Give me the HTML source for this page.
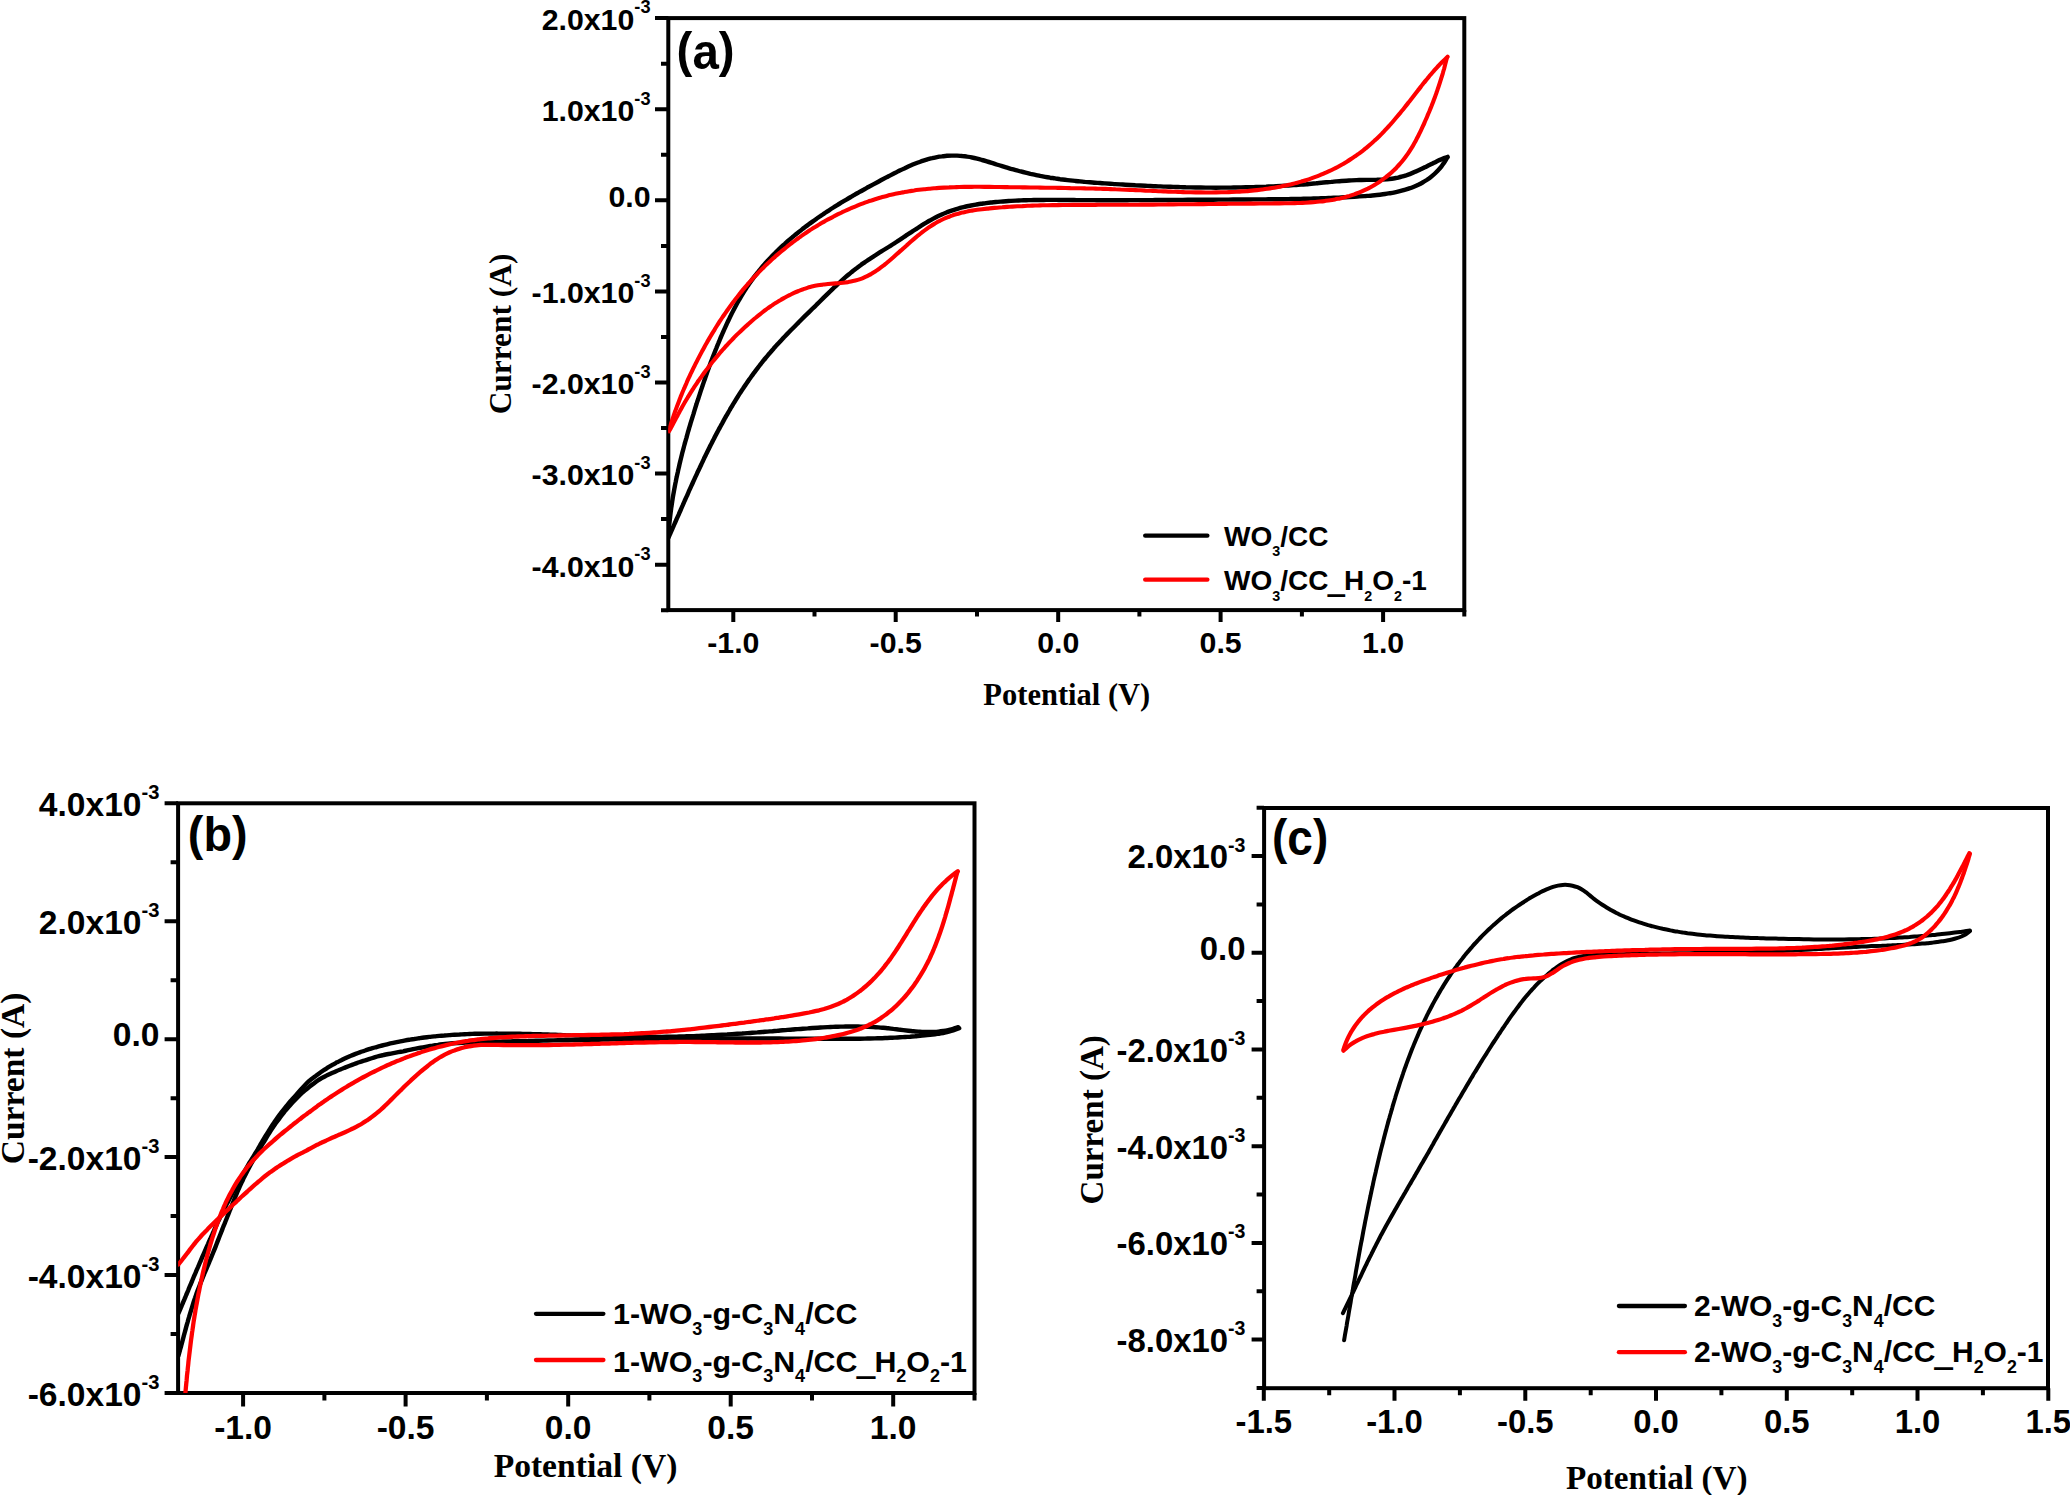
<!DOCTYPE html>
<html lang="en"><head><meta charset="utf-8"><title>Cyclic voltammograms</title>
<style>html,body{margin:0;padding:0;background:#fff}body{width:2070px;height:1495px;overflow:hidden}svg{display:block}.s{font-family:"Liberation Sans", Arial, Helvetica, sans-serif;font-weight:700;fill:#000}.t{font-family:"Liberation Serif", "Times New Roman", Times, serif;font-weight:700;fill:#000}.ax{stroke:#000;fill:none}.k{stroke:#000;fill:none;stroke-linejoin:round;stroke-linecap:round}.r{stroke:#ff0000;fill:none;stroke-linejoin:round;stroke-linecap:round}</style></head><body>
<svg width="2070" height="1495" viewBox="0 0 2070 1495">
<rect width="2070" height="1495" fill="#fff"/>
<g id="panel-a">
<clipPath id="clip-a"><rect x="668.3" y="18.1" width="796" height="592"/></clipPath>
<rect class="ax" x="668.3" y="18.1" width="796" height="592" stroke-width="4"/>
<path class="ax" stroke-width="4" d="M668.3 18.1H655M668.3 109.2H655M668.3 200.3H655M668.3 291.4H655M668.3 382.5H655M668.3 473.6H655M668.3 564.7H655M668.3 63.7H661M668.3 154.8H661M668.3 245.9H661M668.3 336.9H661M668.3 428.1H661M668.3 519.1H661M668.3 610.2H661M733.3 610.1V622.1M895.7 610.1V622.1M1058.2 610.1V622.1M1220.6 610.1V622.1M1383.1 610.1V622.1M814.5 610.1V616.6M977 610.1V616.6M1139.4 610.1V616.6M1301.9 610.1V616.6M1464.3 610.1V616.6"/>
<g clip-path="url(#clip-a)">
<path class="k" stroke-width="4.4" d="M668.7 537.2C669 536.4 670 534.2 670.7 532.6C671.4 531.1 672 529.6 672.7 528.1C673.4 526.5 674.1 525 674.7 523.5C675.4 522 676.1 520.4 676.7 518.9C677.4 517.4 678.1 515.8 678.8 514.3C679.4 512.8 680.1 511.2 680.8 509.7C681.4 508.2 682.1 506.6 682.8 505.1C683.5 503.5 684.2 502 684.8 500.5C685.5 498.9 686.2 497.4 686.9 495.9C687.6 494.3 688.3 492.8 688.9 491.2C689.6 489.7 690.3 488.2 691 486.6C691.7 485.1 692.4 483.6 693.1 482C693.8 480.5 694.5 479 695.2 477.4C695.9 475.9 696.6 474.4 697.3 472.8C698 471.3 698.7 469.8 699.5 468.2C700.2 466.7 700.9 465.2 701.6 463.7C702.3 462.1 703.1 460.6 703.8 459.1C704.5 457.6 705.3 456 706 454.5C706.8 453 707.5 451.5 708.2 450C709 448.5 709.7 446.9 710.5 445.4C711.3 443.9 712 442.4 712.8 440.9C713.6 439.4 714.3 437.9 715.1 436.4C715.9 434.9 716.7 433.4 717.5 431.9C718.3 430.5 719 429 719.9 427.5C720.7 426 721.5 424.5 722.3 423.1C723.1 421.6 723.9 420.1 724.7 418.6C725.6 417.2 726.4 415.7 727.2 414.3C728.1 412.8 728.9 411.3 729.8 409.9C730.6 408.4 731.5 407 732.3 405.6C733.2 404.1 734.1 402.7 734.9 401.3C735.8 399.8 736.7 398.4 737.6 397C738.5 395.6 739.4 394.2 740.3 392.7C741.2 391.3 742.1 389.9 743.1 388.5C744 387.1 744.9 385.8 745.9 384.4C746.8 383 747.8 381.6 748.7 380.2C749.7 378.9 750.7 377.5 751.6 376.1C752.6 374.8 753.6 373.4 754.6 372.1C755.6 370.7 756.6 369.4 757.6 368.1C758.6 366.7 759.7 365.4 760.7 364.1C761.7 362.8 762.8 361.5 763.8 360.2C764.9 358.9 765.9 357.6 767 356.3C768.1 355 769.2 353.7 770.3 352.5C771.4 351.2 772.5 349.9 773.6 348.7C774.7 347.4 775.8 346.2 776.9 344.9C778.1 343.7 779.2 342.5 780.4 341.2C781.5 340 782.7 338.8 783.8 337.5C785 336.3 786.1 335.1 787.3 333.9C788.5 332.7 789.7 331.5 790.8 330.3C792 329.1 793.2 327.9 794.4 326.7C795.6 325.5 796.8 324.3 798 323.1C799.2 321.9 800.3 320.7 801.5 319.5C802.7 318.3 803.9 317.1 805.1 315.9C806.3 314.8 807.6 313.6 808.8 312.4C810 311.2 811.2 310 812.4 308.8C813.6 307.6 814.8 306.4 816 305.3C817.2 304.1 818.4 302.9 819.6 301.7C820.8 300.5 822 299.3 823.2 298.1C824.4 296.9 825.6 295.8 826.8 294.6C828 293.4 829.2 292.2 830.4 291.1C831.6 289.9 832.8 288.7 834 287.6C835.3 286.4 836.5 285.3 837.7 284.1C839 283 840.2 281.9 841.4 280.8C842.7 279.6 843.9 278.5 845.2 277.4C846.5 276.3 847.7 275.3 849 274.2C850.3 273.1 851.6 272.1 852.9 271C854.2 270 855.5 269 856.9 268C858.2 267 859.5 266 860.9 265C862.2 264 863.6 263.1 865 262.1C866.4 261.2 867.7 260.2 869.1 259.3C870.5 258.4 871.9 257.5 873.3 256.6C874.7 255.6 876.1 254.7 877.5 253.8C879 252.9 880.4 252 881.8 251.1C883.2 250.3 884.7 249.4 886.1 248.5C887.5 247.6 888.9 246.7 890.4 245.8C891.8 244.9 893.2 244 894.7 243.1C896.1 242.2 897.5 241.2 898.9 240.3C900.4 239.4 901.8 238.5 903.2 237.5C904.6 236.6 906 235.6 907.4 234.7C908.9 233.8 910.3 232.8 911.7 231.9C913.1 230.9 914.5 230 916 229.1C917.4 228.1 918.8 227.2 920.2 226.3C921.7 225.4 923.1 224.5 924.5 223.6C926 222.7 927.4 221.9 928.9 221C930.3 220.2 931.8 219.4 933.3 218.6C934.8 217.8 936.3 217 937.8 216.3C939.3 215.6 940.8 214.9 942.3 214.2C943.8 213.5 945.4 212.9 946.9 212.3C948.5 211.7 950 211.1 951.6 210.6C953.2 210.1 954.8 209.6 956.4 209.1C958 208.6 959.6 208.2 961.2 207.7C962.8 207.3 964.4 206.9 966 206.5C967.7 206.2 969.3 205.8 971 205.5C972.6 205.2 974.2 204.9 975.9 204.6C977.6 204.3 979.2 204 980.9 203.8C982.5 203.6 984.2 203.3 985.9 203.1C987.5 202.9 989.2 202.7 990.9 202.5C992.6 202.3 994.2 202.2 995.9 202C997.6 201.8 999.3 201.7 1000.9 201.6C1002.6 201.4 1004.3 201.3 1006 201.2C1007.7 201.1 1009.3 201 1011 200.9C1012.7 200.8 1014.4 200.7 1016 200.6C1017.7 200.5 1019.4 200.5 1021.1 200.4C1022.8 200.3 1024.4 200.3 1026.1 200.2C1027.8 200.2 1029.5 200.1 1031.1 200.1C1032.8 200.1 1034.5 200 1036.2 200C1037.9 200 1039.5 200 1041.2 200C1042.9 200 1044.6 199.9 1046.3 199.9C1048 199.9 1049.6 199.9 1051.3 199.9C1053 199.9 1054.7 199.9 1056.4 199.9C1058 199.9 1059.7 200 1061.4 200C1063.1 200 1064.8 200 1066.5 200C1068.2 200 1069.8 200 1071.5 200C1073.2 200 1074.9 200.1 1076.6 200.1C1078.3 200.1 1079.9 200.1 1081.6 200.1C1083.3 200.1 1085 200.1 1086.7 200.1C1088.4 200.1 1090.1 200.1 1091.7 200.1C1093.4 200.1 1095.1 200.2 1096.8 200.2C1098.5 200.2 1100.2 200.2 1101.9 200.2C1103.6 200.2 1105.2 200.2 1106.9 200.2C1108.6 200.2 1110.3 200.2 1112 200.2C1113.7 200.2 1115.4 200.2 1117.1 200.2C1118.7 200.2 1120.4 200.2 1122.1 200.2C1123.8 200.2 1125.5 200.2 1127.2 200.2C1128.9 200.2 1130.6 200.1 1132.2 200.1C1133.9 200.1 1135.6 200.1 1137.3 200.1C1139 200.1 1140.7 200.1 1142.4 200.1C1144.1 200.1 1145.7 200.1 1147.4 200.1C1149.1 200.1 1150.8 200.1 1152.5 200.1C1154.2 200.1 1155.9 200 1157.5 200C1159.2 200 1160.9 200 1162.6 200C1164.3 200 1166 200 1167.7 200C1169.3 200 1171 200 1172.7 199.9C1174.4 199.9 1176.1 199.9 1177.8 199.9C1179.5 199.9 1181.1 199.9 1182.8 199.9C1184.5 199.9 1186.2 199.9 1187.9 199.8C1189.6 199.8 1191.2 199.8 1192.9 199.8C1194.6 199.8 1196.3 199.8 1198 199.8C1199.6 199.8 1201.3 199.8 1203 199.7C1204.7 199.7 1206.4 199.7 1208 199.7C1209.7 199.7 1211.4 199.7 1213.1 199.7C1214.8 199.7 1216.4 199.7 1218.1 199.6C1219.8 199.6 1221.5 199.6 1223.1 199.6C1224.8 199.6 1226.5 199.6 1228.2 199.6C1229.8 199.6 1231.5 199.6 1233.2 199.5C1234.9 199.5 1236.5 199.5 1238.2 199.5C1239.9 199.5 1241.5 199.5 1243.2 199.5C1244.9 199.5 1246.6 199.5 1248.2 199.5C1249.9 199.5 1251.6 199.4 1253.2 199.4C1254.9 199.4 1256.6 199.4 1258.2 199.4C1259.9 199.4 1261.6 199.4 1263.3 199.4C1264.9 199.4 1266.6 199.3 1268.3 199.3C1269.9 199.3 1271.6 199.3 1273.3 199.3C1274.9 199.3 1276.6 199.2 1278.3 199.2C1280 199.2 1281.6 199.2 1283.3 199.2C1285 199.1 1286.6 199.1 1288.3 199.1C1290 199.1 1291.7 199 1293.3 199C1295 199 1296.7 198.9 1298.4 198.9C1300 198.9 1301.7 198.8 1303.4 198.8C1305.1 198.8 1306.7 198.7 1308.4 198.7C1310.1 198.6 1311.8 198.6 1313.5 198.5C1315.1 198.5 1316.8 198.4 1318.5 198.4C1320.2 198.3 1321.9 198.3 1323.6 198.2C1325.3 198.2 1327 198.1 1328.6 198C1330.3 198 1332 197.9 1333.7 197.8C1335.4 197.8 1337.1 197.7 1338.8 197.6C1340.5 197.5 1342.2 197.4 1343.9 197.3C1345.6 197.3 1347.3 197.2 1349 197.1C1350.7 197 1352.4 196.9 1354.2 196.8C1355.9 196.7 1357.6 196.6 1359.3 196.4C1361 196.3 1362.7 196.2 1364.5 196.1C1366.2 196 1367.9 195.8 1369.6 195.7C1371.3 195.5 1373 195.4 1374.8 195.2C1376.5 195.1 1378.2 194.9 1379.9 194.7C1381.6 194.5 1383.3 194.3 1385 194C1386.6 193.8 1388.3 193.5 1390 193.2C1391.6 193 1393.3 192.7 1394.9 192.3C1396.6 192 1398.2 191.6 1399.8 191.2C1401.4 190.8 1403 190.4 1404.6 189.9C1406.2 189.5 1407.8 189 1409.3 188.4C1410.8 187.9 1412.4 187.3 1413.9 186.7C1415.4 186.1 1416.8 185.5 1418.3 184.8C1419.7 184.1 1421.2 183.3 1422.6 182.5C1424 181.7 1425.3 180.9 1426.7 180C1428 179.1 1429.3 178.2 1430.6 177.2C1431.9 176.2 1433.2 175.1 1434.4 174C1435.6 172.9 1436.8 171.7 1437.9 170.5C1439.1 169.3 1440.2 168 1441.3 166.6C1442.3 165.2 1443.4 163.8 1444.4 162.3C1445.4 160.8 1446.8 158.4 1447.2 157.6"/>
<path class="k" stroke-width="4.4" d="M668.7 531.4C668.8 530.6 669 528 669.1 526.4C669.3 524.7 669.4 523 669.6 521.4C669.8 519.7 670 518 670.2 516.3C670.4 514.7 670.6 513 670.8 511.3C671 509.7 671.2 508 671.5 506.4C671.7 504.7 672 503 672.2 501.4C672.5 499.7 672.7 498.1 673 496.4C673.3 494.7 673.6 493.1 673.9 491.4C674.2 489.8 674.5 488.1 674.8 486.5C675.1 484.8 675.4 483.2 675.8 481.5C676.1 479.9 676.4 478.3 676.8 476.6C677.1 475 677.5 473.3 677.9 471.7C678.2 470.1 678.6 468.4 679 466.8C679.3 465.1 679.7 463.5 680.1 461.9C680.5 460.2 680.9 458.6 681.3 457C681.7 455.4 682.1 453.7 682.5 452.1C683 450.5 683.4 448.9 683.8 447.3C684.2 445.6 684.7 444 685.1 442.4C685.6 440.8 686 439.2 686.5 437.6C686.9 436 687.4 434.3 687.8 432.7C688.3 431.1 688.8 429.5 689.2 427.9C689.7 426.3 690.2 424.7 690.6 423.1C691.1 421.5 691.6 419.9 692.1 418.3C692.6 416.7 693.1 415.1 693.6 413.6C694 412 694.5 410.4 695 408.8C695.5 407.2 696 405.6 696.5 404C697 402.5 697.5 400.9 698.1 399.3C698.6 397.7 699.1 396.2 699.6 394.6C700.1 393 700.6 391.4 701.1 389.9C701.7 388.3 702.2 386.7 702.7 385.2C703.3 383.6 703.8 382 704.3 380.5C704.9 378.9 705.4 377.4 706 375.8C706.5 374.2 707.1 372.7 707.6 371.1C708.2 369.6 708.7 368 709.3 366.4C709.9 364.9 710.5 363.3 711 361.8C711.6 360.2 712.2 358.7 712.8 357.1C713.4 355.6 714 354 714.6 352.5C715.2 350.9 715.8 349.4 716.5 347.8C717.1 346.2 717.7 344.7 718.4 343.1C719 341.6 719.7 340 720.3 338.5C721 336.9 721.6 335.4 722.3 333.8C723 332.3 723.7 330.7 724.4 329.2C725.1 327.6 725.8 326.1 726.5 324.5C727.2 323 727.9 321.4 728.7 319.9C729.4 318.4 730.1 316.8 730.9 315.3C731.6 313.8 732.4 312.2 733.2 310.7C734 309.2 734.8 307.7 735.6 306.2C736.4 304.7 737.2 303.2 738 301.7C738.9 300.3 739.7 298.8 740.6 297.3C741.4 295.9 742.3 294.4 743.2 293C744.1 291.6 745 290.1 745.9 288.7C746.8 287.3 747.8 285.9 748.7 284.5C749.7 283.1 750.6 281.8 751.6 280.4C752.6 279.1 753.6 277.7 754.6 276.4C755.6 275.1 756.6 273.8 757.7 272.5C758.7 271.1 759.8 269.9 760.8 268.6C761.9 267.3 763 266 764.1 264.8C765.2 263.5 766.3 262.3 767.4 261.1C768.5 259.9 769.7 258.6 770.8 257.4C771.9 256.2 773.1 255 774.3 253.9C775.4 252.7 776.6 251.5 777.8 250.4C779 249.2 780.2 248.1 781.4 246.9C782.6 245.8 783.9 244.7 785.1 243.6C786.3 242.4 787.6 241.3 788.8 240.2C790.1 239.2 791.4 238.1 792.6 237C793.9 235.9 795.2 234.9 796.5 233.8C797.8 232.8 799.1 231.7 800.4 230.7C801.7 229.7 803 228.6 804.4 227.6C805.7 226.6 807 225.6 808.4 224.6C809.7 223.6 811.1 222.6 812.5 221.6C813.8 220.7 815.2 219.7 816.6 218.7C817.9 217.8 819.3 216.8 820.7 215.9C822.1 214.9 823.5 214 824.9 213C826.3 212.1 827.7 211.2 829.1 210.3C830.6 209.3 832 208.4 833.4 207.5C834.8 206.6 836.3 205.7 837.7 204.8C839.1 203.9 840.6 203.1 842 202.2C843.5 201.3 844.9 200.4 846.4 199.6C847.8 198.7 849.3 197.8 850.8 197C852.2 196.1 853.7 195.3 855.2 194.4C856.6 193.6 858.1 192.8 859.6 191.9C861 191.1 862.5 190.3 864 189.5C865.5 188.6 867 187.8 868.4 187C869.9 186.2 871.4 185.4 872.9 184.6C874.4 183.8 875.9 183 877.4 182.2C878.9 181.4 880.3 180.6 881.8 179.8C883.3 179 884.8 178.2 886.3 177.4C887.8 176.6 889.3 175.9 890.8 175.1C892.3 174.3 893.8 173.5 895.3 172.8C896.8 172 898.2 171.3 899.7 170.5C901.2 169.8 902.7 169.1 904.3 168.4C905.8 167.7 907.3 167 908.8 166.3C910.3 165.6 911.8 165 913.4 164.3C914.9 163.7 916.4 163.1 918 162.5C919.5 162 921.1 161.4 922.6 160.9C924.2 160.4 925.8 159.9 927.4 159.4C929 159 930.6 158.5 932.2 158.2C933.8 157.8 935.4 157.4 937 157.1C938.7 156.8 940.3 156.6 942 156.4C943.6 156.1 945.3 156 947 155.8C948.7 155.7 950.3 155.6 952 155.6C953.7 155.6 955.4 155.6 957.1 155.6C958.8 155.7 960.5 155.8 962.2 156C963.9 156.1 965.6 156.3 967.2 156.6C968.9 156.8 970.6 157.1 972.2 157.5C973.9 157.8 975.5 158.2 977.1 158.6C978.8 159 980.4 159.5 982 160C983.6 160.4 985.2 160.9 986.8 161.4C988.5 161.9 990.1 162.4 991.7 162.9C993.3 163.4 994.9 164 996.5 164.5C998.1 165 999.7 165.5 1001.3 165.9C1002.9 166.4 1004.5 166.9 1006.1 167.4C1007.7 167.9 1009.4 168.3 1011 168.8C1012.6 169.2 1014.2 169.7 1015.8 170.1C1017.4 170.5 1019.1 171 1020.7 171.4C1022.3 171.8 1023.9 172.2 1025.5 172.6C1027.2 173 1028.8 173.4 1030.4 173.8C1032.1 174.1 1033.7 174.5 1035.3 174.8C1037 175.2 1038.6 175.5 1040.2 175.9C1041.9 176.2 1043.5 176.5 1045.1 176.8C1046.8 177.1 1048.4 177.4 1050.1 177.7C1051.7 177.9 1053.4 178.2 1055 178.4C1056.7 178.7 1058.4 178.9 1060 179.2C1061.7 179.4 1063.3 179.6 1065 179.8C1066.7 180 1068.3 180.2 1070 180.4C1071.6 180.6 1073.3 180.8 1075 180.9C1076.7 181.1 1078.3 181.3 1080 181.4C1081.7 181.6 1083.3 181.7 1085 181.9C1086.7 182 1088.4 182.2 1090 182.3C1091.7 182.4 1093.4 182.6 1095.1 182.7C1096.8 182.8 1098.4 182.9 1100.1 183C1101.8 183.2 1103.5 183.3 1105.1 183.4C1106.8 183.5 1108.5 183.6 1110.2 183.7C1111.8 183.8 1113.5 184 1115.2 184.1C1116.9 184.2 1118.6 184.3 1120.2 184.4C1121.9 184.5 1123.6 184.6 1125.3 184.7C1126.9 184.8 1128.6 184.9 1130.3 185C1132 185.1 1133.7 185.2 1135.3 185.3C1137 185.3 1138.7 185.4 1140.4 185.5C1142 185.6 1143.7 185.7 1145.4 185.8C1147.1 185.9 1148.8 185.9 1150.4 186C1152.1 186.1 1153.8 186.2 1155.5 186.2C1157.1 186.3 1158.8 186.4 1160.5 186.4C1162.2 186.5 1163.9 186.6 1165.5 186.6C1167.2 186.7 1168.9 186.8 1170.6 186.8C1172.2 186.9 1173.9 186.9 1175.6 187C1177.3 187 1178.9 187.1 1180.6 187.1C1182.3 187.2 1184 187.2 1185.7 187.3C1187.3 187.3 1189 187.3 1190.7 187.4C1192.4 187.4 1194 187.4 1195.7 187.5C1197.4 187.5 1199.1 187.5 1200.7 187.5C1202.4 187.6 1204.1 187.6 1205.8 187.6C1207.5 187.6 1209.1 187.6 1210.8 187.6C1212.5 187.6 1214.2 187.6 1215.8 187.7C1217.5 187.7 1219.2 187.7 1220.9 187.6C1222.5 187.6 1224.2 187.6 1225.9 187.6C1227.6 187.6 1229.2 187.6 1230.9 187.6C1232.6 187.6 1234.3 187.5 1235.9 187.5C1237.6 187.5 1239.3 187.5 1241 187.4C1242.6 187.4 1244.3 187.4 1246 187.3C1247.7 187.3 1249.3 187.2 1251 187.2C1252.7 187.1 1254.4 187.1 1256 187C1257.7 187 1259.4 186.9 1261.1 186.9C1262.7 186.8 1264.4 186.7 1266.1 186.7C1267.8 186.6 1269.4 186.5 1271.1 186.4C1272.8 186.4 1274.5 186.3 1276.1 186.2C1277.8 186.1 1279.5 186 1281.2 185.9C1282.8 185.8 1284.5 185.7 1286.2 185.6C1287.9 185.5 1289.5 185.4 1291.2 185.3C1292.9 185.2 1294.5 185.1 1296.2 185C1297.9 184.8 1299.6 184.7 1301.2 184.6C1302.9 184.4 1304.6 184.3 1306.3 184.2C1307.9 184 1309.6 183.9 1311.3 183.7C1312.9 183.6 1314.6 183.4 1316.3 183.3C1318 183.1 1319.6 183 1321.3 182.8C1323 182.7 1324.7 182.5 1326.3 182.3C1328 182.2 1329.7 182 1331.3 181.9C1333 181.7 1334.7 181.6 1336.4 181.4C1338 181.3 1339.7 181.2 1341.4 181C1343.1 180.9 1344.8 180.8 1346.4 180.7C1348.1 180.6 1349.8 180.5 1351.5 180.4C1353.2 180.3 1354.9 180.2 1356.5 180.1C1358.2 180.1 1359.9 180 1361.6 180C1363.3 180 1365 180 1366.7 179.9C1368.4 179.9 1370.1 179.9 1371.7 179.9C1373.4 179.9 1375.1 179.8 1376.8 179.8C1378.5 179.7 1380.2 179.7 1381.8 179.6C1383.5 179.5 1385.2 179.4 1386.8 179.3C1388.5 179.1 1390.1 178.9 1391.8 178.7C1393.4 178.5 1395 178.2 1396.7 177.9C1398.3 177.5 1399.9 177.2 1401.5 176.7C1403.1 176.3 1404.7 175.8 1406.2 175.3C1407.8 174.7 1409.4 174.2 1410.9 173.6C1412.5 173 1414.1 172.3 1415.6 171.6C1417.1 171 1418.7 170.3 1420.2 169.5C1421.7 168.8 1423.3 168.1 1424.8 167.3C1426.3 166.6 1427.8 165.8 1429.3 165.1C1430.9 164.3 1432.4 163.6 1433.9 162.8C1435.4 162.1 1436.9 161.3 1438.4 160.6C1439.9 159.9 1441.5 159.3 1443 158.6C1444.5 158 1446.9 157.2 1447.6 156.9"/>
<path class="r" stroke-width="4.1" d="M668.9 431.4C669.2 430.8 670.3 429 671 427.7C671.7 426.4 672.4 425 673.2 423.7C673.9 422.3 674.6 420.9 675.4 419.5C676.1 418.1 676.9 416.7 677.7 415.2C678.4 413.8 679.2 412.4 680 410.9C680.8 409.4 681.6 408 682.4 406.5C683.3 405 684.1 403.6 684.9 402.1C685.8 400.7 686.6 399.2 687.5 397.8C688.4 396.3 689.3 394.9 690.2 393.4C691.1 392 692 390.6 692.9 389.2C693.8 387.7 694.7 386.3 695.7 384.9C696.6 383.5 697.6 382.1 698.5 380.7C699.5 379.3 700.5 378 701.5 376.6C702.4 375.2 703.4 373.9 704.4 372.5C705.4 371.1 706.4 369.8 707.5 368.5C708.5 367.1 709.5 365.8 710.5 364.5C711.6 363.1 712.6 361.8 713.7 360.5C714.7 359.2 715.8 357.9 716.9 356.6C717.9 355.4 719 354.1 720.1 352.8C721.2 351.5 722.3 350.3 723.4 349C724.5 347.8 725.6 346.5 726.8 345.3C727.9 344.1 729.1 342.8 730.2 341.6C731.4 340.4 732.5 339.2 733.7 338C734.9 336.8 736 335.6 737.2 334.4C738.4 333.2 739.6 332.1 740.9 330.9C742.1 329.8 743.3 328.6 744.5 327.5C745.8 326.3 747 325.2 748.3 324.1C749.5 322.9 750.8 321.8 752.1 320.7C753.4 319.6 754.7 318.5 756 317.5C757.3 316.4 758.6 315.3 759.9 314.3C761.2 313.3 762.6 312.2 763.9 311.2C765.3 310.2 766.6 309.2 768 308.2C769.4 307.3 770.7 306.3 772.1 305.4C773.5 304.4 774.9 303.5 776.4 302.6C777.8 301.7 779.2 300.8 780.7 300C782.1 299.1 783.6 298.3 785 297.5C786.5 296.7 788 295.9 789.5 295.1C791 294.4 792.5 293.6 794 292.9C795.5 292.2 797 291.6 798.6 291C800.1 290.3 801.7 289.7 803.2 289.2C804.8 288.6 806.4 288.1 808 287.6C809.6 287.2 811.2 286.7 812.9 286.3C814.5 285.9 816.1 285.6 817.8 285.3C819.4 285 821.1 284.8 822.8 284.6C824.5 284.3 826.2 284.2 827.9 284C829.6 283.9 831.3 283.7 833 283.6C834.7 283.5 836.4 283.3 838.1 283.2C839.8 283 841.5 282.9 843.1 282.7C844.8 282.5 846.5 282.3 848.1 282.1C849.8 281.8 851.4 281.5 853 281.1C854.6 280.8 856.2 280.4 857.7 279.9C859.3 279.4 860.8 278.9 862.3 278.3C863.8 277.7 865.3 277.1 866.7 276.3C868.2 275.6 869.6 274.9 871 274.1C872.4 273.2 873.8 272.4 875.2 271.5C876.6 270.6 877.9 269.6 879.3 268.7C880.6 267.7 881.9 266.7 883.3 265.7C884.6 264.6 885.9 263.6 887.2 262.5C888.5 261.4 889.8 260.3 891.1 259.2C892.4 258.1 893.7 257 895 255.8C896.3 254.7 897.5 253.5 898.8 252.4C900.1 251.2 901.4 250.1 902.7 248.9C904 247.8 905.3 246.6 906.6 245.5C907.8 244.3 909.1 243.2 910.4 242C911.7 240.9 913 239.8 914.4 238.6C915.7 237.5 917 236.4 918.3 235.3C919.6 234.3 921 233.2 922.3 232.2C923.7 231.1 925 230.1 926.4 229.1C927.7 228.1 929.1 227.2 930.5 226.3C931.9 225.3 933.3 224.4 934.8 223.6C936.2 222.7 937.6 221.9 939.1 221.2C940.5 220.4 942 219.7 943.5 219C945 218.3 946.5 217.7 948 217.1C949.6 216.5 951.1 215.9 952.7 215.4C954.2 214.8 955.8 214.4 957.4 213.9C959 213.5 960.6 213 962.2 212.6C963.8 212.3 965.4 211.9 967.1 211.6C968.7 211.2 970.3 210.9 972 210.6C973.6 210.4 975.3 210.1 977 209.8C978.6 209.6 980.3 209.4 982 209.2C983.6 209 985.3 208.8 987 208.6C988.7 208.4 990.4 208.3 992.1 208.1C993.7 208 995.4 207.8 997.1 207.7C998.8 207.5 1000.5 207.4 1002.2 207.3C1003.9 207.1 1005.5 207 1007.2 206.9C1008.9 206.8 1010.6 206.7 1012.3 206.6C1014 206.5 1015.7 206.4 1017.3 206.3C1019 206.2 1020.7 206.1 1022.4 206.1C1024.1 206 1025.8 205.9 1027.5 205.8C1029.2 205.8 1030.8 205.7 1032.5 205.6C1034.2 205.6 1035.9 205.5 1037.6 205.5C1039.3 205.4 1040.9 205.4 1042.6 205.3C1044.3 205.3 1046 205.3 1047.7 205.2C1049.4 205.2 1051.1 205.2 1052.7 205.1C1054.4 205.1 1056.1 205.1 1057.8 205.1C1059.5 205 1061.2 205 1062.8 205C1064.5 205 1066.2 205 1067.9 205C1069.6 204.9 1071.3 204.9 1072.9 204.9C1074.6 204.9 1076.3 204.9 1078 204.9C1079.7 204.9 1081.3 204.9 1083 204.9C1084.7 204.9 1086.4 204.9 1088.1 204.9C1089.7 204.9 1091.4 204.9 1093.1 204.9C1094.8 204.9 1096.5 204.8 1098.1 204.8C1099.8 204.8 1101.5 204.8 1103.2 204.8C1104.8 204.8 1106.5 204.8 1108.2 204.8C1109.9 204.8 1111.5 204.8 1113.2 204.8C1114.9 204.8 1116.6 204.8 1118.2 204.8C1119.9 204.8 1121.6 204.8 1123.3 204.8C1124.9 204.8 1126.6 204.7 1128.3 204.7C1129.9 204.7 1131.6 204.7 1133.3 204.7C1135 204.7 1136.6 204.7 1138.3 204.7C1140 204.7 1141.6 204.6 1143.3 204.6C1145 204.6 1146.7 204.6 1148.3 204.6C1150 204.6 1151.7 204.6 1153.3 204.6C1155 204.5 1156.7 204.5 1158.4 204.5C1160 204.5 1161.7 204.5 1163.4 204.5C1165 204.5 1166.7 204.4 1168.4 204.4C1170.1 204.4 1171.7 204.4 1173.4 204.4C1175.1 204.4 1176.7 204.4 1178.4 204.3C1180.1 204.3 1181.8 204.3 1183.4 204.3C1185.1 204.3 1186.8 204.3 1188.5 204.2C1190.1 204.2 1191.8 204.2 1193.5 204.2C1195.2 204.2 1196.8 204.2 1198.5 204.1C1200.2 204.1 1201.9 204.1 1203.5 204.1C1205.2 204.1 1206.9 204.1 1208.6 204C1210.2 204 1211.9 204 1213.6 204C1215.3 204 1217 203.9 1218.6 203.9C1220.3 203.9 1222 203.9 1223.7 203.9C1225.4 203.9 1227.1 203.8 1228.7 203.8C1230.4 203.8 1232.1 203.8 1233.8 203.8C1235.5 203.8 1237.2 203.7 1238.9 203.7C1240.5 203.7 1242.2 203.7 1243.9 203.7C1245.6 203.7 1247.3 203.7 1249 203.6C1250.7 203.6 1252.4 203.6 1254.1 203.6C1255.8 203.6 1257.5 203.6 1259.2 203.5C1260.9 203.5 1262.6 203.5 1264.2 203.5C1265.9 203.5 1267.6 203.5 1269.3 203.5C1271.1 203.5 1272.8 203.4 1274.5 203.4C1276.2 203.4 1277.9 203.4 1279.6 203.4C1281.3 203.4 1283 203.4 1284.7 203.3C1286.4 203.3 1288.1 203.3 1289.8 203.2C1291.5 203.2 1293.2 203.2 1294.9 203.1C1296.6 203.1 1298.3 203 1300 203C1301.7 202.9 1303.4 202.8 1305.1 202.7C1306.8 202.6 1308.5 202.5 1310.2 202.4C1311.8 202.3 1313.5 202.2 1315.2 202C1316.9 201.9 1318.5 201.7 1320.2 201.5C1321.9 201.4 1323.5 201.2 1325.2 200.9C1326.8 200.7 1328.5 200.5 1330.1 200.2C1331.8 200 1333.4 199.7 1335 199.4C1336.7 199.1 1338.3 198.7 1339.9 198.4C1341.5 198 1343.1 197.6 1344.7 197.2C1346.3 196.8 1347.9 196.3 1349.5 195.9C1351.1 195.4 1352.6 194.9 1354.2 194.4C1355.7 193.8 1357.3 193.2 1358.8 192.6C1360.4 192 1361.9 191.4 1363.4 190.7C1364.9 190 1366.4 189.3 1367.9 188.6C1369.4 187.8 1370.9 187 1372.3 186.2C1373.8 185.4 1375.3 184.5 1376.7 183.6C1378.1 182.7 1379.5 181.8 1380.9 180.8C1382.3 179.9 1383.7 178.9 1385 177.8C1386.4 176.8 1387.7 175.7 1389 174.6C1390.3 173.5 1391.6 172.4 1392.8 171.2C1394.1 170.1 1395.3 168.9 1396.5 167.7C1397.7 166.4 1398.8 165.2 1399.9 163.9C1401 162.7 1402.1 161.4 1403.2 160C1404.2 158.7 1405.2 157.4 1406.2 156C1407.2 154.7 1408.2 153.3 1409.1 151.9C1410 150.5 1410.9 149.1 1411.8 147.6C1412.7 146.2 1413.5 144.7 1414.3 143.3C1415.2 141.8 1416 140.3 1416.7 138.8C1417.5 137.3 1418.3 135.8 1419 134.3C1419.8 132.8 1420.5 131.3 1421.2 129.8C1422 128.2 1422.7 126.7 1423.4 125.2C1424.1 123.6 1424.7 122.1 1425.4 120.5C1426.1 119 1426.8 117.4 1427.4 115.9C1428.1 114.3 1428.7 112.8 1429.4 111.2C1430 109.7 1430.6 108.1 1431.3 106.6C1431.9 105 1432.5 103.5 1433.1 101.9C1433.7 100.3 1434.3 98.8 1434.9 97.2C1435.5 95.6 1436 94 1436.6 92.5C1437.1 90.9 1437.7 89.3 1438.2 87.7C1438.8 86.1 1439.3 84.5 1439.8 82.9C1440.3 81.4 1440.8 79.8 1441.3 78.2C1441.8 76.5 1442.3 74.9 1442.8 73.3C1443.2 71.7 1443.7 70.1 1444.2 68.5C1444.6 66.9 1445 65.2 1445.4 63.6C1445.9 62 1446.5 59.5 1446.7 58.7"/>
<path class="r" stroke-width="4.1" d="M668.9 430.4C669.1 429.6 669.9 427.2 670.4 425.6C670.9 424 671.4 422.4 671.9 420.8C672.4 419.2 673 417.7 673.5 416.1C674.1 414.5 674.6 412.9 675.2 411.3C675.7 409.8 676.3 408.2 676.9 406.6C677.5 405 678.1 403.5 678.7 401.9C679.3 400.3 679.9 398.8 680.5 397.2C681.1 395.7 681.8 394.1 682.4 392.6C683 391 683.7 389.5 684.4 387.9C685 386.4 685.7 384.8 686.4 383.3C687 381.8 687.7 380.2 688.4 378.7C689.1 377.2 689.8 375.7 690.5 374.1C691.3 372.6 692 371.1 692.7 369.6C693.4 368.1 694.2 366.6 694.9 365.1C695.7 363.6 696.4 362.1 697.2 360.6C698 359.1 698.7 357.6 699.5 356.1C700.3 354.6 701.1 353.1 701.9 351.6C702.7 350.2 703.5 348.7 704.3 347.2C705.1 345.7 705.9 344.3 706.8 342.8C707.6 341.3 708.4 339.9 709.3 338.4C710.1 337 711 335.5 711.8 334.1C712.7 332.6 713.6 331.2 714.5 329.8C715.3 328.3 716.2 326.9 717.1 325.5C718 324.1 718.9 322.6 719.8 321.2C720.8 319.8 721.7 318.4 722.6 317C723.6 315.6 724.5 314.3 725.5 312.9C726.4 311.5 727.4 310.1 728.3 308.8C729.3 307.4 730.3 306 731.3 304.7C732.3 303.3 733.3 302 734.3 300.7C735.3 299.3 736.3 298 737.4 296.7C738.4 295.4 739.5 294.1 740.5 292.8C741.6 291.5 742.6 290.2 743.7 288.9C744.8 287.6 745.9 286.3 747 285.1C748.1 283.8 749.2 282.6 750.3 281.3C751.4 280.1 752.5 278.8 753.7 277.6C754.8 276.4 755.9 275.2 757.1 274C758.2 272.8 759.4 271.6 760.6 270.4C761.8 269.2 762.9 268 764.1 266.9C765.3 265.7 766.5 264.5 767.8 263.4C769 262.2 770.2 261.1 771.4 260C772.7 258.9 773.9 257.7 775.2 256.6C776.4 255.5 777.7 254.4 778.9 253.4C780.2 252.3 781.5 251.2 782.8 250.1C784.1 249.1 785.4 248 786.7 247C788 245.9 789.3 244.9 790.6 243.9C792 242.9 793.3 241.9 794.7 240.9C796 239.9 797.4 238.9 798.7 237.9C800.1 236.9 801.5 236 802.8 235C804.2 234.1 805.6 233.1 807 232.2C808.4 231.3 809.8 230.3 811.2 229.4C812.6 228.5 814.1 227.6 815.5 226.8C816.9 225.9 818.4 225 819.8 224.1C821.3 223.3 822.7 222.4 824.2 221.6C825.7 220.8 827.2 219.9 828.6 219.1C830.1 218.3 831.6 217.5 833.1 216.8C834.6 216 836.1 215.2 837.6 214.4C839.1 213.7 840.7 213 842.2 212.2C843.7 211.5 845.2 210.8 846.8 210.1C848.3 209.4 849.9 208.7 851.4 208C853 207.4 854.5 206.7 856.1 206.1C857.7 205.4 859.2 204.8 860.8 204.2C862.4 203.6 863.9 203 865.5 202.4C867.1 201.9 868.7 201.3 870.3 200.8C871.9 200.2 873.5 199.7 875.1 199.2C876.7 198.7 878.3 198.2 879.9 197.7C881.5 197.3 883.1 196.8 884.7 196.4C886.4 196 888 195.5 889.6 195.1C891.2 194.8 892.8 194.4 894.5 194C896.1 193.7 897.7 193.3 899.4 193C901 192.7 902.6 192.3 904.3 192.1C905.9 191.8 907.6 191.5 909.2 191.2C910.8 191 912.5 190.7 914.1 190.5C915.8 190.2 917.4 190 919.1 189.8C920.7 189.6 922.4 189.4 924.1 189.2C925.7 189 927.4 188.9 929 188.7C930.7 188.6 932.4 188.4 934 188.3C935.7 188.2 937.4 188 939 187.9C940.7 187.8 942.4 187.7 944.1 187.6C945.7 187.5 947.4 187.4 949.1 187.4C950.7 187.3 952.4 187.2 954.1 187.2C955.8 187.1 957.5 187.1 959.1 187C960.8 187 962.5 187 964.2 186.9C965.9 186.9 967.6 186.9 969.2 186.9C970.9 186.9 972.6 186.8 974.3 186.8C976 186.8 977.7 186.8 979.4 186.8C981 186.8 982.7 186.8 984.4 186.9C986.1 186.9 987.8 186.9 989.5 186.9C991.2 186.9 992.9 186.9 994.6 187C996.2 187 997.9 187 999.6 187C1001.3 187.1 1003 187.1 1004.7 187.1C1006.4 187.1 1008.1 187.2 1009.8 187.2C1011.5 187.2 1013.1 187.2 1014.8 187.2C1016.5 187.3 1018.2 187.3 1019.9 187.3C1021.6 187.3 1023.3 187.4 1025 187.4C1026.7 187.4 1028.3 187.4 1030 187.5C1031.7 187.5 1033.4 187.5 1035.1 187.5C1036.8 187.5 1038.5 187.6 1040.1 187.6C1041.8 187.6 1043.5 187.6 1045.2 187.7C1046.9 187.7 1048.6 187.7 1050.3 187.7C1051.9 187.8 1053.6 187.8 1055.3 187.8C1057 187.8 1058.7 187.9 1060.4 187.9C1062 187.9 1063.7 187.9 1065.4 188C1067.1 188 1068.8 188 1070.4 188.1C1072.1 188.1 1073.8 188.1 1075.5 188.2C1077.1 188.2 1078.8 188.2 1080.5 188.3C1082.2 188.3 1083.8 188.3 1085.5 188.4C1087.2 188.4 1088.9 188.5 1090.5 188.5C1092.2 188.5 1093.9 188.6 1095.6 188.6C1097.2 188.7 1098.9 188.7 1100.6 188.8C1102.2 188.8 1103.9 188.9 1105.6 188.9C1107.2 189 1108.9 189 1110.6 189.1C1112.2 189.2 1113.9 189.2 1115.6 189.3C1117.2 189.3 1118.9 189.4 1120.5 189.5C1122.2 189.5 1123.9 189.6 1125.5 189.7C1127.2 189.7 1128.8 189.8 1130.5 189.9C1132.1 190 1133.8 190 1135.5 190.1C1137.1 190.2 1138.8 190.3 1140.4 190.3C1142.1 190.4 1143.8 190.5 1145.4 190.6C1147.1 190.6 1148.7 190.7 1150.4 190.8C1152.1 190.9 1153.7 190.9 1155.4 191C1157.1 191.1 1158.7 191.2 1160.4 191.2C1162.1 191.3 1163.7 191.4 1165.4 191.4C1167.1 191.5 1168.8 191.6 1170.4 191.6C1172.1 191.7 1173.8 191.8 1175.5 191.8C1177.1 191.9 1178.8 191.9 1180.5 192C1182.2 192.1 1183.9 192.1 1185.6 192.2C1187.3 192.2 1189 192.2 1190.7 192.3C1192.4 192.3 1194.1 192.3 1195.8 192.4C1197.5 192.4 1199.2 192.4 1200.9 192.4C1202.6 192.5 1204.3 192.5 1206 192.5C1207.7 192.5 1209.4 192.5 1211.1 192.5C1212.8 192.5 1214.5 192.5 1216.2 192.4C1217.9 192.4 1219.6 192.4 1221.3 192.3C1223 192.3 1224.7 192.3 1226.4 192.2C1228.1 192.1 1229.8 192.1 1231.5 192C1233.2 191.9 1234.9 191.8 1236.6 191.8C1238.3 191.7 1240 191.6 1241.7 191.4C1243.4 191.3 1245.1 191.2 1246.7 191.1C1248.4 190.9 1250.1 190.8 1251.8 190.6C1253.5 190.5 1255.2 190.3 1256.8 190.1C1258.5 189.9 1260.2 189.7 1261.9 189.5C1263.5 189.3 1265.2 189.1 1266.9 188.8C1268.5 188.6 1270.2 188.4 1271.9 188.1C1273.5 187.8 1275.2 187.5 1276.8 187.2C1278.5 187 1280.1 186.6 1281.8 186.3C1283.4 186 1285 185.6 1286.7 185.3C1288.3 184.9 1289.9 184.6 1291.5 184.2C1293.1 183.8 1294.8 183.4 1296.4 182.9C1298 182.5 1299.6 182.1 1301.2 181.6C1302.8 181.1 1304.4 180.7 1305.9 180.2C1307.5 179.7 1309.1 179.2 1310.7 178.6C1312.2 178.1 1313.8 177.5 1315.4 176.9C1316.9 176.4 1318.5 175.8 1320 175.2C1321.5 174.5 1323.1 173.9 1324.6 173.2C1326.1 172.6 1327.6 171.9 1329.1 171.2C1330.6 170.5 1332.1 169.8 1333.6 169C1335.1 168.3 1336.6 167.5 1338.1 166.7C1339.5 165.9 1341 165.1 1342.5 164.3C1343.9 163.5 1345.3 162.6 1346.8 161.7C1348.2 160.9 1349.6 160 1351 159C1352.4 158.1 1353.8 157.2 1355.2 156.2C1356.6 155.3 1357.9 154.3 1359.3 153.3C1360.7 152.3 1362 151.3 1363.3 150.3C1364.6 149.2 1365.9 148.2 1367.2 147.1C1368.5 146 1369.8 144.9 1371.1 143.8C1372.3 142.7 1373.6 141.6 1374.8 140.4C1376.1 139.3 1377.3 138.1 1378.5 137C1379.7 135.8 1380.9 134.6 1382.1 133.4C1383.2 132.2 1384.4 131 1385.6 129.7C1386.7 128.5 1387.9 127.2 1389 126C1390.1 124.7 1391.3 123.5 1392.4 122.2C1393.5 120.9 1394.6 119.6 1395.7 118.3C1396.8 117 1397.9 115.7 1399 114.4C1400.1 113.1 1401.1 111.8 1402.2 110.5C1403.3 109.2 1404.3 107.9 1405.4 106.5C1406.4 105.2 1407.5 103.9 1408.5 102.5C1409.6 101.2 1410.6 99.9 1411.7 98.5C1412.7 97.2 1413.7 95.9 1414.8 94.5C1415.8 93.2 1416.9 91.8 1417.9 90.5C1418.9 89.2 1420 87.9 1421 86.5C1422 85.2 1423.1 83.9 1424.1 82.6C1425.2 81.3 1426.2 80 1427.3 78.7C1428.4 77.4 1429.4 76.1 1430.5 74.8C1431.6 73.6 1432.7 72.3 1433.8 71C1434.9 69.8 1436 68.5 1437.1 67.3C1438.2 66.1 1439.4 64.9 1440.5 63.7C1441.7 62.5 1442.8 61.3 1444 60.2C1445.2 59 1447 57.3 1447.6 56.7"/>
</g>
<text class="s" font-size="30.3" text-anchor="end" x="650.5" y="29.9">2.0x10<tspan font-size="18.2" dy="-16.5">-3</tspan></text>
<text class="s" font-size="30.3" text-anchor="end" x="650.5" y="121">1.0x10<tspan font-size="18.2" dy="-16.5">-3</tspan></text>
<text class="s" font-size="30.3" text-anchor="end" x="650.5" y="207.1">0.0</text>
<text class="s" font-size="30.3" text-anchor="end" x="650.5" y="303.2">-1.0x10<tspan font-size="18.2" dy="-16.5">-3</tspan></text>
<text class="s" font-size="30.3" text-anchor="end" x="650.5" y="394.3">-2.0x10<tspan font-size="18.2" dy="-16.5">-3</tspan></text>
<text class="s" font-size="30.3" text-anchor="end" x="650.5" y="485.4">-3.0x10<tspan font-size="18.2" dy="-16.5">-3</tspan></text>
<text class="s" font-size="30.3" text-anchor="end" x="650.5" y="576.5">-4.0x10<tspan font-size="18.2" dy="-16.5">-3</tspan></text>
<text class="s" font-size="30.3" text-anchor="middle" x="733.3" y="653">-1.0</text>
<text class="s" font-size="30.3" text-anchor="middle" x="895.7" y="653">-0.5</text>
<text class="s" font-size="30.3" text-anchor="middle" x="1058.2" y="653">0.0</text>
<text class="s" font-size="30.3" text-anchor="middle" x="1220.6" y="653">0.5</text>
<text class="s" font-size="30.3" text-anchor="middle" x="1383.1" y="653">1.0</text>
<text class="t" font-size="30.5" text-anchor="middle" x="1066.8" y="705">Potential (V)</text>
<text class="t" font-size="31.4" text-anchor="middle" transform="translate(511.4 334) rotate(-90)">Current (A)</text>
<text class="s" font-size="50" transform="translate(676.6 68.6) scale(0.95 1)"><tspan dy="-1.8">(</tspan><tspan dy="1.8">a</tspan><tspan dy="-1.8">)</tspan></text>
<path class="k" stroke-width="4.3" d="M1145.2 535.7H1207.4"/>
<text class="s" font-size="28" x="1224" y="545.8">WO<tspan font-size="14.3" dy="10.6">3</tspan><tspan dy="-10.6">/CC</tspan></text>
<path class="r" stroke-width="4.3" d="M1145.2 579.7H1207.4"/>
<text class="s" font-size="28" x="1224" y="589.9">WO<tspan font-size="14.3" dy="10.6">3</tspan><tspan dy="-10.6">/CC</tspan><tspan dy="3.2" stroke="#000" stroke-width="1.7">_</tspan><tspan dy="-3.2">H</tspan><tspan font-size="14.3" dy="10.6">2</tspan><tspan dy="-10.6">O</tspan><tspan font-size="14.3" dy="10.6">2</tspan><tspan dy="-10.6">-1</tspan></text>
</g>
<g id="panel-b">
<clipPath id="clip-b"><rect x="178.1" y="803.3" width="796.4" height="589.7"/></clipPath>
<rect class="ax" x="178.1" y="803.3" width="796.4" height="589.7" stroke-width="4"/>
<path class="ax" stroke-width="4" d="M178.1 803.3H164.6M178.1 921.3H164.6M178.1 1039.2H164.6M178.1 1157.1H164.6M178.1 1275.1H164.6M178.1 1393H164.6M178.1 862.3H170.6M178.1 980.2H170.6M178.1 1098.2H170.6M178.1 1216.1H170.6M178.1 1334.1H170.6M243.1 1393V1406.5M405.6 1393V1406.5M568.2 1393V1406.5M730.7 1393V1406.5M893.2 1393V1406.5M324.4 1393V1400.5M486.9 1393V1400.5M649.4 1393V1400.5M812 1393V1400.5M974.5 1393V1400.5"/>
<g clip-path="url(#clip-b)">
<path class="k" stroke-width="4.4" d="M178.4 1355.7C178.7 1354.9 179.3 1352.5 179.8 1350.9C180.2 1349.3 180.7 1347.7 181.1 1346.1C181.5 1344.4 182 1342.8 182.4 1341.2C182.8 1339.6 183.3 1338 183.7 1336.3C184.1 1334.7 184.6 1333.1 185 1331.5C185.5 1329.9 185.9 1328.2 186.3 1326.6C186.8 1325 187.2 1323.4 187.7 1321.8C188.1 1320.2 188.6 1318.5 189.1 1316.9C189.5 1315.3 190 1313.7 190.5 1312.1C191 1310.5 191.5 1308.9 192 1307.3C192.5 1305.7 193 1304.1 193.5 1302.5C194 1300.9 194.5 1299.3 195.1 1297.7C195.6 1296.2 196.2 1294.6 196.7 1293C197.3 1291.4 197.9 1289.9 198.5 1288.3C199.1 1286.7 199.7 1285.2 200.3 1283.6C200.9 1282.1 201.5 1280.5 202.2 1279C202.8 1277.4 203.4 1275.9 204.1 1274.3C204.7 1272.8 205.4 1271.3 206 1269.7C206.7 1268.2 207.3 1266.6 208 1265.1C208.6 1263.6 209.3 1262 209.9 1260.5C210.6 1259 211.2 1257.4 211.8 1255.9C212.5 1254.3 213.1 1252.8 213.7 1251.2C214.4 1249.7 215 1248.1 215.6 1246.6C216.2 1245 216.8 1243.5 217.4 1241.9C218 1240.4 218.6 1238.8 219.2 1237.3C219.8 1235.7 220.4 1234.3 221 1232.8C221.6 1231.3 222.2 1229.8 222.7 1228.3C223.3 1226.8 223.9 1225.3 224.5 1223.9C225.1 1222.4 225.6 1221 226.2 1219.6C226.8 1218.2 227.3 1216.7 227.9 1215.3C228.5 1213.9 229.1 1212.4 229.6 1211C230.2 1209.6 230.8 1208.1 231.3 1206.7C231.9 1205.3 232.5 1203.8 233.1 1202.4C233.7 1201 234.2 1199.5 234.8 1198.1C235.4 1196.7 236 1195.2 236.6 1193.8C237.2 1192.4 237.8 1191 238.4 1189.6C239 1188.3 239.6 1186.9 240.2 1185.6C240.9 1184.2 241.5 1182.9 242.1 1181.5C242.7 1180.2 243.4 1178.9 244 1177.5C244.7 1176.2 245.3 1174.9 246 1173.6C246.7 1172.2 247.3 1170.9 248 1169.6C248.7 1168.3 249.4 1167 250.1 1165.7C250.8 1164.4 251.5 1163.1 252.3 1161.8C253 1160.5 253.8 1159.2 254.5 1157.9C255.3 1156.6 256 1155.4 256.8 1154.1C257.6 1152.7 258.4 1151.2 259.2 1149.8C260 1148.3 260.9 1146.9 261.7 1145.5C262.5 1144.1 263.4 1142.8 264.3 1141.3C265.2 1139.9 266.1 1138.3 267 1136.7C267.9 1135.2 268.8 1133.7 269.8 1132.2C270.7 1130.6 271.7 1129.1 272.7 1127.7C273.7 1126.2 274.7 1124.8 275.7 1123.3C276.7 1121.9 277.8 1120.5 278.9 1119.1C279.9 1117.7 281 1116.2 282.1 1114.7C283.3 1113.3 284.4 1111.8 285.6 1110.4C286.7 1109 287.9 1107.6 289.1 1106.2C290.3 1104.8 291.6 1103.5 292.8 1102.1C294.1 1100.8 295.4 1099.5 296.7 1098.2C298 1096.9 299.3 1095.6 300.6 1094.3C302 1093.1 303.3 1091.8 304.7 1090.6C306.1 1089.4 307.5 1088.3 308.9 1087.2C310.3 1086.1 311.7 1084.9 313.2 1083.9C314.6 1082.8 316.1 1081.6 317.5 1080.6C319 1079.7 320.5 1078.8 322 1077.9C323.4 1077.1 324.9 1076.4 326.5 1075.6C328 1074.9 329.5 1074.2 331 1073.5C332.5 1072.8 334.1 1072.2 335.6 1071.5C337.1 1070.8 338.7 1070.1 340.3 1069.5C341.8 1068.8 343.4 1068.2 344.9 1067.6C346.5 1067 348.1 1066.4 349.7 1065.8C351.3 1065.2 352.8 1064.6 354.4 1064C356 1063.4 357.6 1062.9 359.2 1062.3C360.8 1061.7 362.4 1061.2 364 1060.7C365.7 1060.1 367.3 1059.6 368.9 1059.1C370.5 1058.6 372.1 1058.1 373.8 1057.6C375.4 1057.1 377 1056.5 378.7 1056.1C380.3 1055.7 381.9 1055.3 383.6 1055C385.2 1054.6 386.8 1054.3 388.5 1054C390.1 1053.7 391.8 1053.4 393.4 1053.1C395.1 1052.8 396.7 1052.5 398.3 1052.2C400 1051.9 401.6 1051.6 403.3 1051.3C404.9 1050.9 406.6 1050.6 408.2 1050.2C409.9 1049.9 411.5 1049.6 413.1 1049.2C414.8 1048.9 416.4 1048.6 418.1 1048.2C419.7 1047.9 421.4 1047.6 423 1047.3C424.7 1047 426.3 1046.7 428 1046.4C429.6 1046.1 431.3 1045.9 432.9 1045.6C434.6 1045.3 436.2 1045.1 437.9 1044.9C439.6 1044.6 441.2 1044.4 442.9 1044.2C444.5 1044.1 446.2 1043.9 447.9 1043.7C449.5 1043.6 451.2 1043.4 452.9 1043.3C454.5 1043.2 456.2 1043.1 457.9 1043C459.5 1042.9 461.2 1042.8 462.9 1042.7C464.5 1042.6 466.2 1042.6 467.9 1042.5C469.6 1042.4 471.2 1042.4 472.9 1042.3C474.6 1042.3 476.3 1042.2 477.9 1042.2C479.6 1042.2 481.3 1042.1 482.9 1042.1C484.6 1042 486.3 1042 488 1041.9C489.6 1041.9 491.3 1041.8 493 1041.8C494.7 1041.8 496.3 1041.7 498 1041.7C499.7 1041.6 501.4 1041.6 503 1041.5C504.7 1041.5 506.4 1041.5 508.1 1041.4C509.7 1041.4 511.4 1041.3 513.1 1041.3C514.7 1041.3 516.4 1041.2 518.1 1041.2C519.8 1041.1 521.4 1041.1 523.1 1041.1C524.8 1041 526.5 1041 528.1 1041C529.8 1040.9 531.5 1040.9 533.2 1040.9C534.8 1040.8 536.5 1040.8 538.2 1040.7C539.9 1040.7 541.5 1040.7 543.2 1040.6C544.9 1040.6 546.5 1040.6 548.2 1040.5C549.9 1040.5 551.6 1040.5 553.2 1040.4C554.9 1040.4 556.6 1040.4 558.3 1040.3C559.9 1040.3 561.6 1040.3 563.3 1040.2C565 1040.2 566.6 1040.2 568.3 1040.2C570 1040.1 571.7 1040.1 573.3 1040.1C575 1040 576.7 1040 578.3 1040C580 1040 581.7 1039.9 583.4 1039.9C585 1039.9 586.7 1039.8 588.4 1039.8C590.1 1039.8 591.7 1039.8 593.4 1039.7C595.1 1039.7 596.8 1039.7 598.4 1039.7C600.1 1039.6 601.8 1039.6 603.5 1039.6C605.1 1039.6 606.8 1039.5 608.5 1039.5C610.2 1039.5 611.8 1039.5 613.5 1039.4C615.2 1039.4 616.8 1039.4 618.5 1039.4C620.2 1039.4 621.9 1039.3 623.5 1039.3C625.2 1039.3 626.9 1039.3 628.6 1039.2C630.2 1039.2 631.9 1039.2 633.6 1039.2C635.3 1039.2 636.9 1039.2 638.6 1039.1C640.3 1039.1 642 1039.1 643.6 1039.1C645.3 1039.1 647 1039 648.7 1039C650.3 1039 652 1039 653.7 1039C655.4 1039 657 1038.9 658.7 1038.9C660.4 1038.9 662.1 1038.9 663.7 1038.9C665.4 1038.9 667.1 1038.9 668.8 1038.8C670.4 1038.8 672.1 1038.8 673.8 1038.8C675.5 1038.8 677.1 1038.8 678.8 1038.8C680.5 1038.8 682.2 1038.7 683.8 1038.7C685.5 1038.7 687.2 1038.7 688.9 1038.7C690.5 1038.7 692.2 1038.7 693.9 1038.7C695.6 1038.7 697.2 1038.7 698.9 1038.6C700.6 1038.6 702.3 1038.6 703.9 1038.6C705.6 1038.6 707.3 1038.6 709 1038.6C710.6 1038.6 712.3 1038.6 714 1038.6C715.7 1038.6 717.4 1038.6 719 1038.6C720.7 1038.6 722.4 1038.5 724.1 1038.5C725.7 1038.5 727.4 1038.5 729.1 1038.5C730.8 1038.5 732.4 1038.5 734.1 1038.5C735.8 1038.5 737.5 1038.5 739.1 1038.5C740.8 1038.5 742.5 1038.5 744.2 1038.5C745.9 1038.5 747.5 1038.5 749.2 1038.5C750.9 1038.5 752.6 1038.5 754.2 1038.5C755.9 1038.5 757.6 1038.5 759.3 1038.5C760.9 1038.5 762.6 1038.5 764.3 1038.5C766 1038.5 767.7 1038.5 769.3 1038.5C771 1038.5 772.7 1038.5 774.4 1038.5C776 1038.5 777.7 1038.5 779.4 1038.5C781.1 1038.5 782.8 1038.5 784.4 1038.6C786.1 1038.6 787.8 1038.6 789.5 1038.6C791.2 1038.6 792.8 1038.6 794.5 1038.6C796.2 1038.6 797.9 1038.6 799.5 1038.6C801.2 1038.6 802.9 1038.6 804.6 1038.6C806.3 1038.6 807.9 1038.7 809.6 1038.7C811.3 1038.7 813 1038.7 814.7 1038.7C816.3 1038.7 818 1038.7 819.7 1038.7C821.4 1038.7 823.1 1038.7 824.7 1038.7C826.4 1038.7 828.1 1038.8 829.8 1038.8C831.4 1038.8 833.1 1038.8 834.8 1038.8C836.5 1038.8 838.2 1038.8 839.8 1038.8C841.5 1038.8 843.2 1038.8 844.9 1038.8C846.6 1038.8 848.2 1038.8 849.9 1038.7C851.6 1038.7 853.3 1038.7 854.9 1038.7C856.6 1038.7 858.3 1038.7 860 1038.7C861.6 1038.6 863.3 1038.6 865 1038.6C866.7 1038.6 868.3 1038.5 870 1038.5C871.7 1038.4 873.4 1038.4 875 1038.4C876.7 1038.3 878.4 1038.3 880.1 1038.2C881.7 1038.2 883.4 1038.1 885.1 1038C886.7 1038 888.4 1037.9 890.1 1037.8C891.8 1037.8 893.4 1037.7 895.1 1037.6C896.8 1037.5 898.4 1037.4 900.1 1037.3C901.8 1037.2 903.4 1037.1 905.1 1037C906.8 1036.9 908.4 1036.8 910.1 1036.7C911.8 1036.5 913.4 1036.4 915.1 1036.3C916.7 1036.1 918.4 1036 920.1 1035.8C921.7 1035.7 923.4 1035.5 925 1035.3C926.7 1035.2 928.4 1035 930 1034.8C931.7 1034.6 933.3 1034.4 935 1034.2C936.6 1034 938.3 1033.7 939.9 1033.5C941.5 1033.2 943.2 1032.9 944.8 1032.5C946.4 1032.2 948.1 1031.8 949.7 1031.4C951.3 1030.9 952.9 1030.5 954.5 1029.9C956 1029.4 958.4 1028.5 959.2 1028.2"/>
<path class="k" stroke-width="4.4" d="M178.4 1313.6C178.7 1312.8 179.7 1310.5 180.4 1308.9C181 1307.4 181.7 1305.8 182.3 1304.3C183 1302.7 183.6 1301.2 184.3 1299.6C184.9 1298.1 185.6 1296.5 186.2 1295C186.9 1293.4 187.5 1291.9 188.2 1290.3C188.8 1288.7 189.5 1287.2 190.1 1285.6C190.8 1284.1 191.4 1282.5 192.1 1281C192.7 1279.4 193.4 1277.9 194 1276.3C194.7 1274.8 195.4 1273.2 196 1271.7C196.7 1270.1 197.3 1268.6 198 1267.1C198.7 1265.5 199.3 1264 200 1262.4C200.7 1260.9 201.3 1259.3 202 1257.8C202.7 1256.2 203.3 1254.7 204 1253.1C204.7 1251.6 205.4 1250.1 206 1248.5C206.7 1247 207.4 1245.4 208.1 1243.9C208.7 1242.4 209.4 1240.8 210.1 1239.3C210.8 1237.7 211.5 1236.2 212.2 1234.7C212.9 1233.1 213.6 1231.6 214.2 1230.1C214.9 1228.5 215.6 1227 216.3 1225.5C217 1224 217.7 1222.4 218.4 1220.9C219.1 1219.4 219.9 1217.9 220.6 1216.4C221.3 1215 222 1213.6 222.7 1212.2C223.4 1210.7 224.1 1209.3 224.9 1207.9C225.6 1206.5 226.3 1205.1 227 1203.6C227.8 1202.2 228.5 1200.8 229.2 1199.4C230 1198 230.7 1196.6 231.4 1195.2C232.2 1193.8 232.9 1192.4 233.7 1191C234.4 1189.6 235.2 1188.2 235.9 1186.8C236.7 1185.4 237.5 1184 238.2 1182.6C239 1181.2 239.8 1179.8 240.5 1178.4C241.3 1177 242.1 1175.6 242.9 1174.3C243.6 1172.9 244.4 1171.5 245.2 1170.1C246 1168.7 246.8 1167.4 247.6 1166C248.4 1164.6 249.2 1163.3 250 1161.9C250.9 1160.6 251.7 1159.2 252.5 1157.8C253.3 1156.5 254.2 1155.2 255 1153.8C255.9 1152.4 256.7 1151.1 257.6 1149.6C258.4 1148.2 259.3 1146.6 260.2 1145C261.1 1143.5 262 1142 262.9 1140.4C263.8 1138.9 264.7 1137.4 265.6 1135.9C266.5 1134.4 267.4 1132.9 268.4 1131.4C269.3 1129.9 270.2 1128.4 271.2 1126.9C272.2 1125.4 273.1 1123.9 274.1 1122.5C275.1 1121 276.1 1119.6 277.1 1118.2C278.1 1116.8 279.2 1115.4 280.2 1114C281.2 1112.6 282.3 1111.2 283.4 1109.9C284.4 1108.5 285.5 1107.2 286.6 1105.8C287.7 1104.5 288.8 1103.1 289.9 1101.8C291.1 1100.5 292.2 1099.2 293.4 1097.9C294.5 1096.7 295.7 1095.5 296.9 1094.1C298.1 1092.8 299.3 1091.4 300.5 1090C301.7 1088.6 303 1087.2 304.2 1085.9C305.5 1084.5 306.8 1083.1 308.1 1081.9C309.3 1080.7 310.6 1079.8 312 1078.7C313.3 1077.7 314.6 1076.7 316 1075.7C317.3 1074.7 318.7 1073.7 320.1 1072.7C321.4 1071.8 322.8 1070.8 324.2 1069.9C325.6 1069 327.1 1068.1 328.5 1067.2C329.9 1066.4 331.4 1065.5 332.8 1064.7C334.3 1063.8 335.8 1063 337.2 1062.2C338.7 1061.5 340.2 1060.7 341.7 1060C343.2 1059.2 344.8 1058.5 346.3 1057.8C347.8 1057.1 349.4 1056.4 350.9 1055.8C352.5 1055.1 354 1054.5 355.6 1053.9C357.2 1053.3 358.8 1052.7 360.4 1052.1C361.9 1051.6 363.5 1051 365.1 1050.5C366.7 1049.9 368.4 1049.4 370 1048.9C371.6 1048.4 373.2 1048 374.8 1047.5C376.4 1047 378.1 1046.6 379.7 1046.1C381.3 1045.7 383 1045.3 384.6 1044.9C386.2 1044.5 387.9 1044.1 389.5 1043.7C391.2 1043.3 392.8 1043 394.4 1042.6C396.1 1042.2 397.7 1041.9 399.4 1041.6C401 1041.3 402.7 1040.9 404.3 1040.6C406 1040.3 407.7 1040 409.3 1039.8C411 1039.5 412.6 1039.2 414.3 1039C416 1038.7 417.6 1038.5 419.3 1038.2C420.9 1038 422.6 1037.8 424.3 1037.5C426 1037.3 427.6 1037.1 429.3 1036.9C431 1036.7 432.6 1036.6 434.3 1036.4C436 1036.2 437.7 1036.1 439.3 1035.9C441 1035.7 442.7 1035.6 444.4 1035.5C446.1 1035.3 447.7 1035.2 449.4 1035.1C451.1 1035 452.8 1034.8 454.5 1034.7C456.1 1034.6 457.8 1034.5 459.5 1034.5C461.2 1034.4 462.9 1034.3 464.6 1034.2C466.2 1034.1 467.9 1034.1 469.6 1034C471.3 1033.9 473 1033.9 474.7 1033.8C476.4 1033.8 478.1 1033.8 479.7 1033.7C481.4 1033.7 483.1 1033.7 484.8 1033.6C486.5 1033.6 488.2 1033.6 489.9 1033.6C491.6 1033.6 493.2 1033.6 494.9 1033.6C496.6 1033.5 498.3 1033.6 500 1033.6C501.7 1033.6 503.4 1033.6 505 1033.6C506.7 1033.6 508.4 1033.6 510.1 1033.6C511.8 1033.6 513.5 1033.7 515.1 1033.7C516.8 1033.7 518.5 1033.8 520.2 1033.8C521.9 1033.8 523.6 1033.9 525.3 1033.9C526.9 1033.9 528.6 1034 530.3 1034C532 1034.1 533.7 1034.1 535.4 1034.2C537 1034.2 538.7 1034.3 540.4 1034.3C542.1 1034.4 543.8 1034.4 545.4 1034.5C547.1 1034.5 548.8 1034.6 550.5 1034.6C552.2 1034.7 553.9 1034.8 555.5 1034.8C557.2 1034.9 558.9 1034.9 560.6 1035C562.3 1035.1 563.9 1035.1 565.6 1035.2C567.3 1035.2 569 1035.3 570.7 1035.4C572.4 1035.4 574 1035.5 575.7 1035.6C577.4 1035.6 579.1 1035.7 580.8 1035.7C582.4 1035.8 584.1 1035.9 585.8 1035.9C587.5 1036 589.2 1036 590.8 1036.1C592.5 1036.1 594.2 1036.2 595.9 1036.3C597.6 1036.3 599.2 1036.4 600.9 1036.4C602.6 1036.5 604.3 1036.5 606 1036.6C607.6 1036.6 609.3 1036.6 611 1036.7C612.7 1036.7 614.4 1036.8 616.1 1036.8C617.7 1036.8 619.4 1036.9 621.1 1036.9C622.8 1036.9 624.5 1036.9 626.1 1037C627.8 1037 629.5 1037 631.2 1037C632.9 1037 634.5 1037.1 636.2 1037.1C637.9 1037.1 639.6 1037.1 641.3 1037.1C643 1037.1 644.6 1037.1 646.3 1037.1C648 1037.1 649.7 1037.1 651.4 1037C653 1037 654.7 1037 656.4 1037C658.1 1037 659.8 1037 661.5 1036.9C663.1 1036.9 664.8 1036.9 666.5 1036.8C668.2 1036.8 669.9 1036.8 671.6 1036.7C673.2 1036.7 674.9 1036.7 676.6 1036.6C678.3 1036.6 680 1036.5 681.7 1036.5C683.3 1036.4 685 1036.4 686.7 1036.3C688.4 1036.2 690.1 1036.2 691.8 1036.1C693.4 1036.1 695.1 1036 696.8 1035.9C698.5 1035.9 700.2 1035.8 701.8 1035.7C703.5 1035.6 705.2 1035.6 706.9 1035.5C708.6 1035.4 710.3 1035.3 711.9 1035.2C713.6 1035.2 715.3 1035.1 717 1035C718.7 1034.9 720.4 1034.8 722 1034.7C723.7 1034.6 725.4 1034.5 727.1 1034.4C728.8 1034.3 730.5 1034.2 732.1 1034.1C733.8 1034 735.5 1033.9 737.2 1033.8C738.9 1033.7 740.6 1033.6 742.2 1033.5C743.9 1033.3 745.6 1033.2 747.3 1033.1C749 1033 750.6 1032.9 752.3 1032.7C754 1032.6 755.7 1032.5 757.4 1032.4C759.1 1032.2 760.7 1032.1 762.4 1032C764.1 1031.9 765.8 1031.7 767.5 1031.6C769.1 1031.5 770.8 1031.3 772.5 1031.2C774.2 1031 775.9 1030.9 777.6 1030.8C779.2 1030.6 780.9 1030.5 782.6 1030.3C784.3 1030.2 786 1030.1 787.6 1029.9C789.3 1029.8 791 1029.7 792.7 1029.5C794.4 1029.4 796 1029.2 797.7 1029.1C799.4 1029 801.1 1028.9 802.8 1028.7C804.4 1028.6 806.1 1028.5 807.8 1028.4C809.5 1028.2 811.2 1028.1 812.8 1028C814.5 1027.9 816.2 1027.8 817.9 1027.7C819.6 1027.6 821.2 1027.5 822.9 1027.4C824.6 1027.3 826.3 1027.2 828 1027.1C829.6 1027 831.3 1027 833 1026.9C834.7 1026.8 836.3 1026.8 838 1026.7C839.7 1026.7 841.4 1026.6 843.1 1026.6C844.7 1026.6 846.4 1026.5 848.1 1026.5C849.8 1026.5 851.4 1026.5 853.1 1026.5C854.8 1026.5 856.5 1026.5 858.1 1026.5C859.8 1026.6 861.5 1026.6 863.2 1026.7C864.9 1026.7 866.5 1026.8 868.2 1026.8C869.9 1026.9 871.6 1027 873.2 1027.1C874.9 1027.2 876.6 1027.3 878.3 1027.4C879.9 1027.5 881.6 1027.7 883.3 1027.8C884.9 1028 886.6 1028.1 888.3 1028.3C890 1028.5 891.6 1028.7 893.3 1028.9C895 1029.1 896.7 1029.3 898.3 1029.5C900 1029.7 901.7 1029.9 903.3 1030.1C905 1030.3 906.7 1030.5 908.4 1030.7C910 1030.9 911.7 1031 913.4 1031.2C915 1031.4 916.7 1031.5 918.4 1031.6C920 1031.7 921.7 1031.9 923.4 1031.9C925 1032 926.7 1032 928.4 1032C930 1032 931.7 1032 933.4 1032C935 1031.9 936.7 1031.8 938.3 1031.6C940 1031.5 941.7 1031.3 943.3 1031C945 1030.8 946.6 1030.5 948.3 1030.1C949.9 1029.7 951.6 1029.3 953.2 1028.8C954.9 1028.3 957.4 1027.4 958.2 1027.2"/>
<path class="r" stroke-width="4.3" d="M178.4 1264.4C179 1263.8 180.5 1261.9 181.6 1260.5C182.6 1259.2 183.6 1257.9 184.6 1256.6C185.7 1255.3 186.7 1253.9 187.7 1252.6C188.7 1251.3 189.7 1249.9 190.7 1248.6C191.8 1247.3 192.8 1245.9 193.8 1244.6C194.9 1243.3 195.9 1242 197 1240.7C198.1 1239.5 199.2 1238.2 200.3 1237C201.4 1235.7 202.5 1234.5 203.7 1233.3C204.8 1232.1 206 1230.9 207.2 1229.7C208.3 1228.5 209.5 1227.3 210.7 1226.1C211.9 1224.9 213.1 1223.8 214.3 1222.6C215.5 1221.5 216.7 1220.3 217.9 1219.1C219.1 1218 220.4 1216.8 221.6 1215.7C222.8 1214.5 224 1213.4 225.2 1212.2C226.4 1211 227.7 1209.9 228.9 1208.7C230.1 1207.6 231.3 1206.4 232.5 1205.2C233.8 1204.1 235 1202.9 236.2 1201.8C237.5 1200.6 238.7 1199.5 239.9 1198.3C241.2 1197.2 242.4 1196 243.6 1194.9C244.9 1193.7 246.1 1192.6 247.4 1191.5C248.6 1190.3 249.9 1189.2 251.1 1188.1C252.4 1187 253.6 1185.8 254.9 1184.7C256.2 1183.6 257.5 1182.5 258.7 1181.4C260 1180.3 261.3 1179.3 262.6 1178.2C263.9 1177.1 265.2 1176 266.5 1175C267.8 1174 269.1 1173 270.4 1172.1C271.8 1171.1 273.1 1170.2 274.4 1169.2C275.8 1168.3 277.1 1167.4 278.5 1166.5C279.8 1165.6 281.2 1164.7 282.6 1163.9C283.9 1163 285.3 1162.1 286.7 1161.3C288.1 1160.4 289.5 1159.6 290.9 1158.8C292.3 1158 293.7 1157.2 295.2 1156.4C296.6 1155.7 298 1154.9 299.5 1154.1C300.9 1153.4 302.4 1152.7 303.9 1151.9C305.3 1151.2 306.8 1150.3 308.3 1149.5C309.8 1148.7 311.3 1147.9 312.8 1147.1C314.3 1146.3 315.8 1145.5 317.3 1144.7C318.8 1144 320.3 1143.2 321.8 1142.5C323.4 1141.7 324.9 1141 326.4 1140.4C328 1139.7 329.5 1139 331.1 1138.3C332.6 1137.6 334.2 1137 335.7 1136.3C337.3 1135.6 338.8 1134.9 340.3 1134.3C341.9 1133.6 343.4 1132.9 345 1132.2C346.5 1131.5 348 1130.8 349.5 1130.1C351 1129.4 352.5 1128.7 354 1128C355.4 1127.3 356.9 1126.5 358.3 1125.7C359.8 1124.9 361.2 1124.1 362.6 1123.2C364 1122.4 365.4 1121.5 366.7 1120.6C368.1 1119.6 369.4 1118.7 370.7 1117.7C372.1 1116.8 373.4 1115.8 374.7 1114.8C376 1113.8 377.2 1112.8 378.5 1111.7C379.8 1110.7 381 1109.5 382.3 1108.4C383.5 1107.2 384.8 1106 386 1104.8C387.3 1103.6 388.5 1102.4 389.7 1101.2C390.9 1100 392.2 1098.8 393.4 1097.6C394.6 1096.4 395.8 1095.2 397 1093.9C398.3 1092.7 399.5 1091.5 400.7 1090.3C402 1089.1 403.2 1087.8 404.4 1086.6C405.7 1085.4 406.9 1084.2 408.2 1083C409.5 1081.8 410.7 1080.6 412 1079.4C413.3 1078.2 414.6 1077 415.9 1075.8C417.2 1074.7 418.5 1073.5 419.8 1072.4C421.2 1071.2 422.5 1070.1 423.9 1069C425.2 1067.9 426.6 1066.8 428 1065.7C429.3 1064.7 430.7 1063.6 432.1 1062.6C433.6 1061.6 435 1060.6 436.4 1059.6C437.8 1058.7 439.3 1057.7 440.8 1056.9C442.2 1056 443.7 1055.2 445.2 1054.4C446.7 1053.7 448.2 1053 449.7 1052.3C451.2 1051.6 452.8 1051 454.3 1050.5C455.9 1049.9 457.4 1049.3 459 1048.9C460.6 1048.4 462.2 1047.9 463.8 1047.5C465.4 1047.1 467 1046.8 468.6 1046.4C470.2 1046.1 471.9 1045.9 473.5 1045.6C475.1 1045.4 476.8 1045.2 478.4 1045.1C480.1 1045 481.7 1044.9 483.4 1044.8C485.1 1044.8 486.7 1044.8 488.4 1044.8C490 1044.8 491.7 1044.8 493.4 1044.9C495 1044.9 496.7 1044.9 498.4 1044.9C500.1 1045 501.7 1045 503.4 1045C505.1 1045 506.8 1045.1 508.4 1045.1C510.1 1045.1 511.8 1045.1 513.5 1045.1C515.1 1045.1 516.8 1045.1 518.5 1045.2C520.2 1045.2 521.9 1045.2 523.5 1045.2C525.2 1045.2 526.9 1045.2 528.6 1045.2C530.3 1045.2 532 1045.2 533.6 1045.2C535.3 1045.1 537 1045.1 538.7 1045.1C540.4 1045.1 542 1045.1 543.7 1045.1C545.4 1045.1 547.1 1045 548.8 1045C550.5 1045 552.1 1045 553.8 1044.9C555.5 1044.9 557.2 1044.9 558.9 1044.8C560.5 1044.8 562.2 1044.8 563.9 1044.7C565.6 1044.7 567.3 1044.7 568.9 1044.6C570.6 1044.6 572.3 1044.5 574 1044.5C575.7 1044.5 577.3 1044.4 579 1044.4C580.7 1044.3 582.4 1044.3 584.1 1044.2C585.7 1044.2 587.4 1044.1 589.1 1044.1C590.8 1044 592.5 1044 594.1 1043.9C595.8 1043.9 597.5 1043.8 599.2 1043.8C600.9 1043.7 602.5 1043.7 604.2 1043.6C605.9 1043.6 607.6 1043.5 609.3 1043.5C610.9 1043.4 612.6 1043.4 614.3 1043.3C616 1043.3 617.7 1043.2 619.3 1043.2C621 1043.1 622.7 1043.1 624.4 1043C626.1 1043 627.7 1042.9 629.4 1042.9C631.1 1042.8 632.8 1042.8 634.5 1042.7C636.1 1042.7 637.8 1042.6 639.5 1042.6C641.2 1042.5 642.9 1042.5 644.5 1042.5C646.2 1042.4 647.9 1042.4 649.6 1042.4C651.3 1042.3 652.9 1042.3 654.6 1042.3C656.3 1042.2 658 1042.2 659.7 1042.2C661.3 1042.1 663 1042.1 664.7 1042.1C666.4 1042.1 668.1 1042 669.7 1042C671.4 1042 673.1 1042 674.8 1042C676.5 1042 678.1 1042 679.8 1041.9C681.5 1041.9 683.2 1041.9 684.9 1041.9C686.5 1041.9 688.2 1041.9 689.9 1041.9C691.6 1042 693.3 1042 695 1042C696.6 1042 698.3 1042 700 1042C701.7 1042 703.4 1042.1 705 1042.1C706.7 1042.1 708.4 1042.1 710.1 1042.1C711.8 1042.2 713.5 1042.2 715.1 1042.2C716.8 1042.2 718.5 1042.3 720.2 1042.3C721.9 1042.3 723.6 1042.3 725.2 1042.4C726.9 1042.4 728.6 1042.4 730.3 1042.4C732 1042.4 733.6 1042.5 735.3 1042.5C737 1042.5 738.7 1042.5 740.4 1042.5C742.1 1042.5 743.7 1042.5 745.4 1042.5C747.1 1042.6 748.8 1042.6 750.5 1042.5C752.1 1042.5 753.8 1042.5 755.5 1042.5C757.2 1042.5 758.9 1042.5 760.5 1042.5C762.2 1042.5 763.9 1042.4 765.6 1042.4C767.3 1042.4 768.9 1042.3 770.6 1042.3C772.3 1042.2 774 1042.2 775.7 1042.1C777.3 1042.1 779 1042 780.7 1041.9C782.4 1041.8 784.1 1041.8 785.7 1041.7C787.4 1041.6 789.1 1041.5 790.8 1041.4C792.4 1041.3 794.1 1041.1 795.8 1041C797.5 1040.9 799.2 1040.8 800.8 1040.6C802.5 1040.5 804.2 1040.3 805.9 1040.1C807.5 1040 809.2 1039.8 810.9 1039.6C812.6 1039.4 814.2 1039.2 815.9 1039C817.6 1038.8 819.2 1038.5 820.9 1038.3C822.6 1038.1 824.3 1037.8 825.9 1037.5C827.6 1037.3 829.3 1037 830.9 1036.7C832.6 1036.4 834.2 1036 835.9 1035.7C837.5 1035.4 839.2 1035 840.8 1034.6C842.4 1034.2 844.1 1033.8 845.7 1033.4C847.3 1033 848.9 1032.5 850.5 1032C852.1 1031.5 853.7 1031 855.3 1030.5C856.9 1030 858.4 1029.4 860 1028.8C861.5 1028.2 863.1 1027.6 864.6 1026.9C866.1 1026.3 867.6 1025.6 869.1 1024.8C870.6 1024.1 872.1 1023.4 873.5 1022.6C875 1021.8 876.4 1020.9 877.8 1020.1C879.3 1019.2 880.7 1018.3 882 1017.3C883.4 1016.4 884.8 1015.4 886.1 1014.4C887.5 1013.4 888.8 1012.3 890.1 1011.2C891.4 1010.2 892.7 1009.1 893.9 1007.9C895.2 1006.8 896.4 1005.6 897.6 1004.4C898.8 1003.2 900 1002 901.2 1000.8C902.4 999.5 903.5 998.3 904.7 997C905.8 995.7 906.9 994.4 908 993.1C909.1 991.7 910.1 990.4 911.1 989C912.2 987.7 913.2 986.3 914.2 984.9C915.2 983.5 916.1 982.1 917.1 980.7C918 979.3 918.9 977.9 919.8 976.4C920.7 975 921.6 973.6 922.4 972.1C923.3 970.6 924.1 969.2 924.9 967.7C925.7 966.2 926.5 964.7 927.3 963.3C928 961.8 928.8 960.3 929.5 958.8C930.2 957.3 930.9 955.7 931.6 954.2C932.3 952.7 932.9 951.2 933.6 949.6C934.2 948.1 934.9 946.6 935.5 945C936.1 943.5 936.7 941.9 937.3 940.3C937.9 938.8 938.5 937.2 939 935.6C939.6 934.1 940.2 932.5 940.7 930.9C941.2 929.3 941.8 927.7 942.3 926.1C942.8 924.6 943.3 923 943.8 921.4C944.3 919.8 944.8 918.2 945.3 916.5C945.7 914.9 946.2 913.3 946.7 911.7C947.1 910.1 947.6 908.5 948.1 906.9C948.5 905.2 949 903.6 949.4 902C949.9 900.4 950.3 898.8 950.7 897.1C951.2 895.5 951.6 893.9 952 892.2C952.5 890.6 952.9 889 953.3 887.4C953.8 885.7 954.2 884.1 954.6 882.5C955 880.8 955.5 879.2 955.9 877.6C956.3 875.9 957 873.5 957.2 872.7"/>
<path class="r" stroke-width="4.3" d="M184.7 1400.7C184.8 1399.8 185 1397.3 185.2 1395.6C185.3 1394 185.5 1392.3 185.6 1390.6C185.8 1388.9 185.9 1387.2 186.1 1385.6C186.2 1383.9 186.4 1382.2 186.6 1380.5C186.7 1378.9 186.9 1377.2 187 1375.5C187.2 1373.8 187.4 1372.2 187.6 1370.5C187.7 1368.8 187.9 1367.1 188.1 1365.5C188.3 1363.8 188.4 1362.1 188.6 1360.5C188.8 1358.8 189 1357.1 189.2 1355.5C189.4 1353.8 189.6 1352.1 189.8 1350.5C190 1348.8 190.2 1347.1 190.4 1345.5C190.6 1343.8 190.8 1342.1 191 1340.5C191.2 1338.8 191.5 1337.2 191.7 1335.5C191.9 1333.8 192.1 1332.2 192.4 1330.5C192.6 1328.9 192.9 1327.2 193.1 1325.5C193.3 1323.9 193.6 1322.2 193.8 1320.6C194.1 1318.9 194.4 1317.3 194.6 1315.6C194.9 1314 195.2 1312.3 195.4 1310.7C195.7 1309 196 1307.4 196.3 1305.7C196.6 1304.1 196.9 1302.4 197.2 1300.8C197.5 1299.1 197.8 1297.5 198.1 1295.8C198.4 1294.2 198.7 1292.6 199.1 1290.9C199.4 1289.3 199.7 1287.6 200.1 1286C200.4 1284.3 200.8 1282.7 201.1 1281.1C201.5 1279.4 201.8 1277.8 202.2 1276.2C202.6 1274.5 202.9 1272.9 203.3 1271.3C203.7 1269.6 204.1 1268 204.5 1266.4C204.9 1264.7 205.3 1263.1 205.7 1261.5C206.1 1259.8 206.6 1258.2 207 1256.6C207.4 1255 207.9 1253.3 208.3 1251.7C208.8 1250.1 209.2 1248.5 209.7 1246.9C210.1 1245.2 210.6 1243.6 211.1 1242C211.6 1240.4 212.1 1238.8 212.6 1237.2C213.1 1235.6 213.6 1234 214.2 1232.4C214.7 1230.8 215.2 1229.2 215.8 1227.6C216.3 1226 216.9 1224.4 217.5 1222.8C218.1 1221.2 218.6 1219.7 219.3 1218.1C219.9 1216.5 220.5 1215 221.1 1213.4C221.8 1211.8 222.4 1210.3 223.1 1208.8C223.7 1207.2 224.4 1205.7 225.1 1204.2C225.8 1202.6 226.5 1201.1 227.3 1199.6C228 1198.1 228.7 1196.6 229.5 1195.1C230.3 1193.6 231.1 1192.1 231.9 1190.7C232.7 1189.2 233.5 1187.8 234.3 1186.3C235.2 1184.9 236 1183.4 236.9 1182C237.8 1180.6 238.7 1179.2 239.6 1177.8C240.5 1176.4 241.5 1175 242.4 1173.7C243.4 1172.3 244.4 1171 245.4 1169.7C246.4 1168.3 247.4 1167 248.5 1165.7C249.6 1164.4 250.6 1163.2 251.7 1161.9C252.8 1160.7 253.9 1159.4 255.1 1158.2C256.2 1157 257.4 1155.8 258.5 1154.6C259.7 1153.4 260.9 1152.2 262.1 1151C263.3 1149.8 264.5 1148.7 265.8 1147.5C267 1146.4 268.2 1145.3 269.5 1144.1C270.7 1143 272 1141.9 273.3 1140.8C274.5 1139.7 275.8 1138.6 277.1 1137.5C278.4 1136.4 279.7 1135.3 281 1134.2C282.3 1133.2 283.6 1132.1 284.9 1131C286.2 1130 287.6 1128.9 288.9 1127.8C290.2 1126.8 291.5 1125.7 292.8 1124.7C294.1 1123.6 295.5 1122.6 296.8 1121.6C298.1 1120.5 299.5 1119.5 300.8 1118.5C302.1 1117.4 303.5 1116.4 304.8 1115.4C306.1 1114.4 307.5 1113.4 308.8 1112.4C310.2 1111.4 311.5 1110.4 312.9 1109.4C314.2 1108.4 315.6 1107.4 317 1106.4C318.3 1105.4 319.7 1104.5 321.1 1103.5C322.4 1102.5 323.8 1101.6 325.2 1100.6C326.6 1099.7 328 1098.7 329.4 1097.8C330.8 1096.9 332.2 1095.9 333.6 1095C335 1094.1 336.4 1093.2 337.8 1092.3C339.2 1091.4 340.6 1090.5 342 1089.6C343.4 1088.7 344.9 1087.8 346.3 1087C347.7 1086.1 349.2 1085.2 350.6 1084.4C352 1083.5 353.5 1082.7 354.9 1081.9C356.4 1081 357.8 1080.2 359.3 1079.4C360.8 1078.6 362.2 1077.8 363.7 1077C365.2 1076.2 366.7 1075.4 368.2 1074.6C369.7 1073.9 371.1 1073.1 372.6 1072.3C374.1 1071.6 375.7 1070.8 377.2 1070.1C378.7 1069.4 380.2 1068.7 381.7 1067.9C383.2 1067.2 384.8 1066.5 386.3 1065.8C387.8 1065.1 389.4 1064.5 390.9 1063.8C392.4 1063.1 394 1062.5 395.5 1061.8C397.1 1061.2 398.6 1060.5 400.2 1059.9C401.8 1059.3 403.3 1058.6 404.9 1058C406.5 1057.4 408 1056.8 409.6 1056.3C411.2 1055.7 412.8 1055.1 414.4 1054.5C416 1054 417.6 1053.4 419.2 1052.9C420.7 1052.3 422.3 1051.8 424 1051.3C425.6 1050.8 427.2 1050.3 428.8 1049.8C430.4 1049.3 432 1048.8 433.6 1048.4C435.2 1047.9 436.9 1047.5 438.5 1047C440.1 1046.6 441.7 1046.2 443.4 1045.8C445 1045.4 446.6 1045 448.3 1044.6C449.9 1044.2 451.5 1043.8 453.2 1043.5C454.8 1043.2 456.5 1042.8 458.1 1042.5C459.7 1042.2 461.4 1041.9 463 1041.6C464.7 1041.3 466.4 1041 468 1040.8C469.7 1040.5 471.3 1040.3 473 1040.1C474.6 1039.9 476.3 1039.6 478 1039.4C479.6 1039.2 481.3 1039.1 483 1038.9C484.6 1038.7 486.3 1038.5 488 1038.4C489.6 1038.2 491.3 1038.1 493 1038C494.6 1037.8 496.3 1037.7 498 1037.6C499.7 1037.5 501.3 1037.4 503 1037.3C504.7 1037.2 506.4 1037.1 508 1037C509.7 1036.9 511.4 1036.8 513.1 1036.7C514.8 1036.7 516.4 1036.6 518.1 1036.5C519.8 1036.4 521.5 1036.4 523.2 1036.3C524.8 1036.3 526.5 1036.2 528.2 1036.2C529.9 1036.1 531.6 1036.1 533.2 1036C534.9 1036 536.6 1035.9 538.3 1035.9C540 1035.8 541.6 1035.8 543.3 1035.8C545 1035.7 546.7 1035.7 548.4 1035.7C550.1 1035.6 551.7 1035.6 553.4 1035.6C555.1 1035.5 556.8 1035.5 558.5 1035.5C560.2 1035.4 561.8 1035.4 563.5 1035.4C565.2 1035.4 566.9 1035.3 568.6 1035.3C570.2 1035.3 571.9 1035.3 573.6 1035.2C575.3 1035.2 577 1035.2 578.7 1035.2C580.3 1035.1 582 1035.1 583.7 1035.1C585.4 1035 587.1 1035 588.8 1035C590.4 1035 592.1 1034.9 593.8 1034.9C595.5 1034.9 597.2 1034.8 598.8 1034.8C600.5 1034.8 602.2 1034.7 603.9 1034.7C605.6 1034.6 607.2 1034.6 608.9 1034.6C610.6 1034.5 612.3 1034.5 614 1034.4C615.6 1034.4 617.3 1034.3 619 1034.3C620.7 1034.2 622.4 1034.1 624 1034.1C625.7 1034 627.4 1033.9 629.1 1033.9C630.7 1033.8 632.4 1033.7 634.1 1033.7C635.8 1033.6 637.5 1033.5 639.1 1033.4C640.8 1033.3 642.5 1033.2 644.2 1033.1C645.8 1033 647.5 1032.9 649.2 1032.8C650.8 1032.7 652.5 1032.6 654.2 1032.5C655.9 1032.4 657.5 1032.2 659.2 1032.1C660.9 1032 662.5 1031.8 664.2 1031.7C665.9 1031.6 667.6 1031.4 669.2 1031.3C670.9 1031.1 672.6 1031 674.2 1030.8C675.9 1030.7 677.6 1030.5 679.2 1030.3C680.9 1030.2 682.6 1030 684.2 1029.8C685.9 1029.7 687.6 1029.5 689.2 1029.3C690.9 1029.1 692.6 1029 694.2 1028.8C695.9 1028.6 697.6 1028.4 699.2 1028.2C700.9 1028 702.6 1027.8 704.2 1027.6C705.9 1027.4 707.6 1027.2 709.2 1027C710.9 1026.8 712.6 1026.6 714.2 1026.4C715.9 1026.2 717.6 1026 719.2 1025.8C720.9 1025.6 722.5 1025.4 724.2 1025.2C725.9 1025 727.5 1024.7 729.2 1024.5C730.9 1024.3 732.5 1024.1 734.2 1023.9C735.9 1023.7 737.5 1023.4 739.2 1023.2C740.9 1023 742.5 1022.8 744.2 1022.6C745.8 1022.3 747.5 1022.1 749.2 1021.9C750.8 1021.7 752.5 1021.4 754.2 1021.2C755.8 1021 757.5 1020.8 759.2 1020.5C760.8 1020.3 762.5 1020.1 764.2 1019.8C765.8 1019.6 767.5 1019.3 769.2 1019.1C770.8 1018.9 772.5 1018.6 774.2 1018.4C775.8 1018.1 777.5 1017.9 779.2 1017.6C780.8 1017.3 782.5 1017.1 784.2 1016.8C785.9 1016.6 787.5 1016.3 789.2 1016C790.9 1015.7 792.5 1015.5 794.2 1015.2C795.9 1014.9 797.6 1014.6 799.2 1014.3C800.9 1014 802.6 1013.7 804.2 1013.4C805.9 1013.1 807.6 1012.8 809.2 1012.5C810.9 1012.1 812.6 1011.8 814.2 1011.4C815.9 1011 817.5 1010.7 819.1 1010.3C820.8 1009.8 822.4 1009.4 824 1009C825.6 1008.5 827.2 1008 828.8 1007.5C830.4 1007 832 1006.4 833.5 1005.8C835.1 1005.3 836.6 1004.6 838.1 1004C839.6 1003.3 841.1 1002.6 842.6 1001.9C844.1 1001.1 845.5 1000.4 847 999.6C848.4 998.8 849.9 997.9 851.3 997C852.7 996.2 854 995.3 855.4 994.3C856.8 993.4 858.1 992.4 859.4 991.4C860.7 990.4 862.1 989.4 863.3 988.3C864.6 987.3 865.9 986.2 867.1 985.1C868.4 984 869.6 982.8 870.8 981.7C872 980.5 873.2 979.3 874.4 978.1C875.5 976.9 876.7 975.7 877.8 974.4C878.9 973.2 880 971.9 881.1 970.7C882.2 969.4 883.2 968.1 884.3 966.8C885.3 965.4 886.4 964.1 887.4 962.8C888.4 961.4 889.4 960.1 890.4 958.7C891.4 957.3 892.3 955.9 893.3 954.5C894.2 953.2 895.2 951.7 896.1 950.3C897 948.9 898 947.5 898.9 946.1C899.8 944.7 900.7 943.2 901.6 941.8C902.5 940.4 903.4 938.9 904.3 937.5C905.2 936 906.1 934.6 907 933.1C907.9 931.7 908.8 930.2 909.7 928.8C910.6 927.4 911.5 925.9 912.4 924.5C913.3 923 914.2 921.6 915.1 920.2C916 918.7 916.9 917.3 917.8 915.9C918.7 914.5 919.7 913.1 920.6 911.7C921.5 910.3 922.5 908.9 923.4 907.5C924.4 906.1 925.4 904.7 926.4 903.4C927.3 902 928.3 900.7 929.4 899.3C930.4 898 931.4 896.7 932.4 895.4C933.5 894.1 934.6 892.8 935.6 891.6C936.7 890.3 937.8 889.1 939 887.8C940.1 886.6 941.2 885.4 942.4 884.2C943.6 883.1 944.8 881.9 946 880.8C947.2 879.6 948.5 878.5 949.8 877.4C951 876.4 952.3 875.3 953.7 874.3C955 873.3 957.1 871.8 957.8 871.3"/>
</g>
<text class="s" font-size="33.6" text-anchor="end" x="159.5" y="815.9">4.0x10<tspan font-size="20.2" dy="-17">-3</tspan></text>
<text class="s" font-size="33.6" text-anchor="end" x="159.5" y="933.9">2.0x10<tspan font-size="20.2" dy="-17">-3</tspan></text>
<text class="s" font-size="33.6" text-anchor="end" x="159.5" y="1046.4">0.0</text>
<text class="s" font-size="33.6" text-anchor="end" x="159.5" y="1169.7">-2.0x10<tspan font-size="20.2" dy="-17">-3</tspan></text>
<text class="s" font-size="33.6" text-anchor="end" x="159.5" y="1287.7">-4.0x10<tspan font-size="20.2" dy="-17">-3</tspan></text>
<text class="s" font-size="33.6" text-anchor="end" x="159.5" y="1405.6">-6.0x10<tspan font-size="20.2" dy="-17">-3</tspan></text>
<text class="s" font-size="33.6" text-anchor="middle" x="243.1" y="1439">-1.0</text>
<text class="s" font-size="33.6" text-anchor="middle" x="405.6" y="1439">-0.5</text>
<text class="s" font-size="33.6" text-anchor="middle" x="568.2" y="1439">0.0</text>
<text class="s" font-size="33.6" text-anchor="middle" x="730.7" y="1439">0.5</text>
<text class="s" font-size="33.6" text-anchor="middle" x="893.2" y="1439">1.0</text>
<text class="t" font-size="33.6" text-anchor="middle" x="585.5" y="1476.9">Potential (V)</text>
<text class="t" font-size="33.6" text-anchor="middle" transform="translate(24.1 1078.4) rotate(-90)">Current (A)</text>
<text class="s" font-size="48.7" transform="translate(187.8 851) scale(0.96 1)"><tspan dy="-1.5">(</tspan><tspan dy="1.5">b</tspan><tspan dy="-1.5">)</tspan></text>
<path class="k" stroke-width="4.3" d="M536 1313.8H603.4"/>
<text class="s" font-size="30.4" x="613" y="1324">1-WO<tspan font-size="18" dy="10.6">3</tspan><tspan dy="-10.6">-g-C</tspan><tspan font-size="18" dy="10.6">3</tspan><tspan dy="-10.6">N</tspan><tspan font-size="18" dy="10.6">4</tspan><tspan dy="-10.6">/CC</tspan></text>
<path class="r" stroke-width="4.3" d="M536 1360H603.4"/>
<text class="s" font-size="30.4" x="613" y="1371.6">1-WO<tspan font-size="18" dy="10.6">3</tspan><tspan dy="-10.6">-g-C</tspan><tspan font-size="18" dy="10.6">3</tspan><tspan dy="-10.6">N</tspan><tspan font-size="18" dy="10.6">4</tspan><tspan dy="-10.6">/CC</tspan><tspan dy="3.5" stroke="#000" stroke-width="1.8">_</tspan><tspan dy="-3.5">H</tspan><tspan font-size="18" dy="10.6">2</tspan><tspan dy="-10.6">O</tspan><tspan font-size="18" dy="10.6">2</tspan><tspan dy="-10.6">-1</tspan></text>
</g>
<g id="panel-c">
<clipPath id="clip-c"><rect x="1264.1" y="808" width="783.9" height="580.2"/></clipPath>
<rect class="ax" x="1264.1" y="808" width="783.9" height="580.2" stroke-width="4"/>
<path class="ax" stroke-width="4" d="M1264.1 856.1H1251.6M1264.1 952.8H1251.6M1264.1 1049.5H1251.6M1264.1 1146.2H1251.6M1264.1 1242.9H1251.6M1264.1 1339.6H1251.6M1264.1 807.8H1256.6M1264.1 904.4H1256.6M1264.1 1001.1H1256.6M1264.1 1097.8H1256.6M1264.1 1194.5H1256.6M1264.1 1291.2H1256.6M1264.1 1388H1256.6M1263.8 1388.2V1400.7M1394.5 1388.2V1400.7M1525.3 1388.2V1400.7M1656 1388.2V1400.7M1786.8 1388.2V1400.7M1917.5 1388.2V1400.7M2048.3 1388.2V1400.7M1329.2 1388.2V1395.2M1459.9 1388.2V1395.2M1590.7 1388.2V1395.2M1721.4 1388.2V1395.2M1852.2 1388.2V1395.2M1982.9 1388.2V1395.2"/>
<g clip-path="url(#clip-c)">
<path class="k" stroke-width="4" d="M1342.9 1313.2C1343.3 1312.5 1344.4 1310.2 1345.1 1308.7C1345.9 1307.2 1346.6 1305.7 1347.3 1304.2C1348.1 1302.6 1348.8 1301.1 1349.5 1299.6C1350.2 1298.1 1351 1296.6 1351.7 1295.1C1352.4 1293.5 1353.1 1292 1353.9 1290.5C1354.6 1289 1355.3 1287.5 1356 1285.9C1356.7 1284.4 1357.5 1282.9 1358.2 1281.4C1358.9 1279.8 1359.6 1278.3 1360.4 1276.8C1361.1 1275.3 1361.8 1273.8 1362.5 1272.2C1363.3 1270.7 1364 1269.2 1364.7 1267.7C1365.4 1266.2 1366.2 1264.7 1366.9 1263.1C1367.6 1261.6 1368.4 1260.1 1369.1 1258.6C1369.9 1257.1 1370.6 1255.6 1371.4 1254.1C1372.1 1252.6 1372.9 1251.1 1373.6 1249.6C1374.4 1248.1 1375.1 1246.6 1375.9 1245.1C1376.7 1243.6 1377.4 1242.1 1378.2 1240.6C1379 1239.1 1379.8 1237.6 1380.5 1236.1C1381.3 1234.7 1382.1 1233.2 1382.9 1231.7C1383.7 1230.2 1384.5 1228.8 1385.3 1227.3C1386.1 1225.8 1386.9 1224.3 1387.7 1222.9C1388.6 1221.4 1389.4 1220 1390.2 1218.5C1391 1217 1391.8 1215.6 1392.7 1214.1C1393.5 1212.7 1394.3 1211.2 1395.1 1209.8C1396 1208.3 1396.8 1206.8 1397.6 1205.4C1398.5 1203.9 1399.3 1202.5 1400.2 1201C1401 1199.6 1401.8 1198.2 1402.7 1196.7C1403.5 1195.3 1404.4 1193.8 1405.2 1192.4C1406 1190.9 1406.9 1189.5 1407.7 1188C1408.6 1186.6 1409.4 1185.1 1410.3 1183.7C1411.1 1182.2 1411.9 1180.8 1412.8 1179.3C1413.6 1177.9 1414.5 1176.5 1415.3 1175C1416.2 1173.6 1417 1172.1 1417.8 1170.7C1418.7 1169.2 1419.5 1167.7 1420.3 1166.3C1421.2 1164.8 1422 1163.4 1422.9 1161.9C1423.7 1160.5 1424.5 1159 1425.4 1157.6C1426.2 1156.1 1427 1154.7 1427.9 1153.2C1428.7 1151.8 1429.5 1150.3 1430.4 1148.8C1431.2 1147.4 1432 1145.9 1432.9 1144.5C1433.7 1143 1434.5 1141.5 1435.3 1140.1C1436.2 1138.6 1437 1137.2 1437.8 1135.7C1438.7 1134.3 1439.5 1132.8 1440.3 1131.3C1441.2 1129.9 1442 1128.4 1442.8 1127C1443.7 1125.5 1444.5 1124.1 1445.3 1122.6C1446.2 1121.1 1447 1119.7 1447.8 1118.2C1448.7 1116.8 1449.5 1115.3 1450.4 1113.9C1451.2 1112.4 1452 1110.9 1452.9 1109.5C1453.7 1108 1454.6 1106.6 1455.4 1105.1C1456.2 1103.7 1457.1 1102.2 1457.9 1100.8C1458.8 1099.3 1459.6 1097.9 1460.5 1096.4C1461.3 1095 1462.2 1093.5 1463 1092.1C1463.9 1090.6 1464.7 1089.2 1465.6 1087.7C1466.4 1086.3 1467.3 1084.8 1468.2 1083.4C1469 1081.9 1469.9 1080.5 1470.7 1079C1471.6 1077.6 1472.5 1076.2 1473.3 1074.7C1474.2 1073.3 1475.1 1071.8 1476 1070.4C1476.8 1069 1477.7 1067.5 1478.6 1066.1C1479.5 1064.7 1480.4 1063.2 1481.2 1061.8C1482.1 1060.4 1483 1059 1483.9 1057.5C1484.8 1056.1 1485.7 1054.7 1486.6 1053.3C1487.5 1051.8 1488.4 1050.4 1489.3 1049C1490.2 1047.6 1491.1 1046.2 1492 1044.7C1492.9 1043.3 1493.8 1041.9 1494.8 1040.5C1495.7 1039.1 1496.6 1037.7 1497.5 1036.3C1498.4 1034.9 1499.4 1033.5 1500.3 1032.1C1501.2 1030.7 1502.2 1029.3 1503.1 1027.9C1504.1 1026.5 1505 1025.1 1506 1023.7C1506.9 1022.3 1507.9 1020.9 1508.8 1019.5C1509.8 1018.1 1510.7 1016.8 1511.7 1015.4C1512.7 1014 1513.7 1012.6 1514.7 1011.3C1515.7 1009.9 1516.6 1008.6 1517.7 1007.2C1518.7 1005.9 1519.7 1004.5 1520.7 1003.2C1521.7 1001.9 1522.8 1000.6 1523.8 999.3C1524.9 997.9 1525.9 996.6 1527 995.4C1528.1 994.1 1529.2 992.8 1530.3 991.5C1531.4 990.3 1532.5 989 1533.7 987.8C1534.8 986.6 1535.9 985.4 1537.1 984.2C1538.3 983 1539.5 981.8 1540.7 980.6C1541.9 979.5 1543.1 978.3 1544.4 977.2C1545.6 976.1 1546.9 975 1548.2 973.9C1549.5 972.8 1550.8 971.8 1552.1 970.7C1553.5 969.7 1554.8 968.7 1556.2 967.7C1557.6 966.7 1559 965.7 1560.4 964.8C1561.9 963.9 1563.3 963 1564.8 962.2C1566.3 961.4 1567.8 960.7 1569.3 960C1570.8 959.4 1572.4 958.7 1573.9 958.2C1575.5 957.7 1577.1 957.3 1578.7 956.9C1580.3 956.6 1582 956.3 1583.6 956C1585.3 955.8 1586.9 955.6 1588.6 955.4C1590.3 955.3 1592 955.2 1593.6 955.1C1595.3 955 1597 954.9 1598.7 954.9C1600.4 954.8 1602.1 954.8 1603.8 954.7C1605.5 954.6 1607.2 954.6 1608.9 954.5C1610.6 954.5 1612.3 954.5 1614 954.4C1615.7 954.4 1617.3 954.3 1619 954.3C1620.7 954.2 1622.4 954.2 1624.1 954.2C1625.8 954.1 1627.5 954.1 1629.2 954C1630.9 954 1632.6 954 1634.2 953.9C1635.9 953.9 1637.6 953.9 1639.3 953.8C1641 953.8 1642.7 953.8 1644.4 953.8C1646.1 953.7 1647.8 953.7 1649.4 953.7C1651.1 953.7 1652.8 953.6 1654.5 953.6C1656.2 953.6 1657.9 953.6 1659.6 953.5C1661.3 953.5 1662.9 953.5 1664.6 953.5C1666.3 953.4 1668 953.4 1669.7 953.4C1671.4 953.4 1673.1 953.4 1674.7 953.3C1676.4 953.3 1678.1 953.3 1679.8 953.3C1681.5 953.3 1683.2 953.2 1684.8 953.2C1686.5 953.2 1688.2 953.2 1689.9 953.2C1691.6 953.1 1693.3 953.1 1694.9 953.1C1696.6 953.1 1698.3 953.1 1700 953C1701.7 953 1703.4 953 1705 953C1706.7 953 1708.4 952.9 1710.1 952.9C1711.8 952.9 1713.4 952.9 1715.1 952.8C1716.8 952.8 1718.5 952.8 1720.2 952.8C1721.9 952.7 1723.5 952.7 1725.2 952.7C1726.9 952.6 1728.6 952.6 1730.3 952.6C1731.9 952.5 1733.6 952.5 1735.3 952.5C1737 952.4 1738.7 952.4 1740.3 952.4C1742 952.3 1743.7 952.3 1745.4 952.2C1747.1 952.2 1748.7 952.1 1750.4 952.1C1752.1 952.1 1753.8 952 1755.5 952C1757.1 951.9 1758.8 951.9 1760.5 951.8C1762.2 951.7 1763.9 951.7 1765.5 951.6C1767.2 951.6 1768.9 951.5 1770.6 951.4C1772.3 951.4 1773.9 951.3 1775.6 951.2C1777.3 951.2 1779 951.1 1780.7 951C1782.3 951 1784 950.9 1785.7 950.8C1787.4 950.7 1789.1 950.6 1790.7 950.6C1792.4 950.5 1794.1 950.4 1795.8 950.3C1797.5 950.2 1799.1 950.1 1800.8 950C1802.5 949.9 1804.2 949.8 1805.8 949.8C1807.5 949.7 1809.2 949.6 1810.9 949.5C1812.6 949.4 1814.2 949.3 1815.9 949.2C1817.6 949.1 1819.3 949 1821 948.9C1822.7 948.8 1824.3 948.7 1826 948.6C1827.7 948.5 1829.4 948.4 1831.1 948.3C1832.7 948.2 1834.4 948.1 1836.1 948C1837.8 947.9 1839.5 947.8 1841.1 947.7C1842.8 947.6 1844.5 947.5 1846.2 947.4C1847.9 947.3 1849.6 947.2 1851.2 947.2C1852.9 947.1 1854.6 947 1856.3 946.9C1858 946.8 1859.7 946.7 1861.4 946.6C1863 946.5 1864.7 946.4 1866.4 946.4C1868.1 946.3 1869.8 946.2 1871.5 946.1C1873.2 946 1874.8 946 1876.5 945.9C1878.2 945.8 1879.9 945.7 1881.6 945.7C1883.3 945.6 1885 945.5 1886.7 945.5C1888.3 945.4 1890 945.3 1891.7 945.3C1893.4 945.2 1895.1 945.1 1896.8 945.1C1898.5 945 1900.2 944.9 1901.9 944.9C1903.5 944.8 1905.2 944.7 1906.9 944.6C1908.6 944.5 1910.3 944.4 1912 944.3C1913.7 944.2 1915.3 944.1 1917 944C1918.7 943.9 1920.4 943.8 1922 943.6C1923.7 943.5 1925.4 943.4 1927.1 943.2C1928.7 943 1930.4 942.9 1932.1 942.7C1933.7 942.5 1935.4 942.3 1937.1 942C1938.7 941.8 1940.4 941.6 1942.1 941.3C1943.7 941 1945.4 940.8 1947 940.5C1948.7 940.2 1950.3 939.9 1951.9 939.5C1953.6 939.1 1955.2 938.7 1956.7 938.2C1958.3 937.7 1959.9 937.1 1961.4 936.5C1962.9 935.8 1964.4 935.1 1965.8 934.2C1967.2 933.3 1969.2 931.7 1969.9 931.2"/>
<path class="k" stroke-width="4" d="M1344.1 1340.3C1344.2 1339.4 1344.7 1336.9 1344.9 1335.3C1345.2 1333.6 1345.5 1331.9 1345.8 1330.3C1346.1 1328.6 1346.4 1327 1346.7 1325.3C1346.9 1323.6 1347.2 1322 1347.5 1320.3C1347.8 1318.6 1348.1 1317 1348.4 1315.3C1348.7 1313.6 1348.9 1312 1349.2 1310.3C1349.5 1308.7 1349.8 1307 1350.1 1305.3C1350.4 1303.7 1350.7 1302 1350.9 1300.4C1351.2 1298.7 1351.5 1297 1351.8 1295.4C1352.1 1293.7 1352.4 1292.1 1352.7 1290.4C1352.9 1288.7 1353.2 1287.1 1353.5 1285.4C1353.8 1283.8 1354.1 1282.1 1354.4 1280.5C1354.7 1278.8 1355 1277.2 1355.3 1275.5C1355.6 1273.8 1355.8 1272.2 1356.1 1270.5C1356.4 1268.9 1356.7 1267.2 1357 1265.6C1357.3 1263.9 1357.6 1262.3 1357.9 1260.6C1358.2 1259 1358.5 1257.3 1358.8 1255.6C1359.1 1254 1359.4 1252.3 1359.7 1250.7C1360 1249 1360.3 1247.4 1360.6 1245.7C1360.9 1244.1 1361.2 1242.4 1361.6 1240.8C1361.9 1239.1 1362.2 1237.5 1362.5 1235.8C1362.8 1234.2 1363.1 1232.5 1363.4 1230.9C1363.7 1229.2 1364.1 1227.6 1364.4 1225.9C1364.7 1224.3 1365 1222.7 1365.3 1221C1365.7 1219.4 1366 1217.7 1366.3 1216.1C1366.6 1214.4 1367 1212.8 1367.3 1211.1C1367.6 1209.5 1368 1207.8 1368.3 1206.2C1368.6 1204.6 1369 1202.9 1369.3 1201.3C1369.7 1199.6 1370 1198 1370.4 1196.3C1370.7 1194.7 1371.1 1193.1 1371.4 1191.4C1371.8 1189.8 1372.1 1188.1 1372.5 1186.5C1372.8 1184.9 1373.2 1183.2 1373.5 1181.6C1373.9 1179.9 1374.3 1178.3 1374.6 1176.7C1375 1175 1375.4 1173.4 1375.8 1171.7C1376.1 1170.1 1376.5 1168.5 1376.9 1166.8C1377.3 1165.2 1377.7 1163.6 1378 1161.9C1378.4 1160.3 1378.8 1158.6 1379.2 1157C1379.6 1155.4 1380 1153.7 1380.4 1152.1C1380.8 1150.5 1381.2 1148.8 1381.6 1147.2C1382 1145.6 1382.4 1143.9 1382.9 1142.3C1383.3 1140.7 1383.7 1139 1384.1 1137.4C1384.5 1135.8 1385 1134.1 1385.4 1132.5C1385.8 1130.9 1386.3 1129.3 1386.7 1127.6C1387.1 1126 1387.6 1124.4 1388 1122.7C1388.5 1121.1 1388.9 1119.5 1389.4 1117.8C1389.8 1116.2 1390.3 1114.6 1390.8 1113C1391.2 1111.3 1391.7 1109.7 1392.2 1108.1C1392.6 1106.5 1393.1 1104.8 1393.6 1103.2C1394.1 1101.6 1394.6 1100 1395.1 1098.3C1395.5 1096.7 1396 1095.1 1396.5 1093.5C1397.1 1091.9 1397.6 1090.2 1398.1 1088.6C1398.6 1087 1399.1 1085.4 1399.6 1083.8C1400.2 1082.2 1400.7 1080.6 1401.2 1079C1401.8 1077.4 1402.3 1075.8 1402.9 1074.1C1403.4 1072.5 1404 1070.9 1404.5 1069.3C1405.1 1067.8 1405.7 1066.2 1406.2 1064.6C1406.8 1063 1407.4 1061.4 1408 1059.8C1408.6 1058.2 1409.2 1056.6 1409.8 1055.1C1410.4 1053.5 1411 1051.9 1411.6 1050.3C1412.2 1048.8 1412.9 1047.2 1413.5 1045.6C1414.1 1044.1 1414.8 1042.5 1415.4 1041C1416.1 1039.4 1416.7 1037.8 1417.4 1036.3C1418.1 1034.8 1418.7 1033.2 1419.4 1031.7C1420.1 1030.1 1420.8 1028.6 1421.5 1027.1C1422.2 1025.5 1422.9 1024 1423.6 1022.5C1424.3 1021 1425 1019.5 1425.8 1018C1426.5 1016.4 1427.2 1014.9 1428 1013.4C1428.7 1012 1429.5 1010.5 1430.3 1009C1431.1 1007.5 1431.8 1006 1432.6 1004.5C1433.4 1003.1 1434.2 1001.6 1435 1000.1C1435.8 998.7 1436.6 997.2 1437.5 995.8C1438.3 994.3 1439.1 992.9 1440 991.4C1440.8 990 1441.7 988.6 1442.6 987.1C1443.4 985.7 1444.3 984.3 1445.2 982.9C1446.1 981.5 1447 980.1 1447.9 978.7C1448.8 977.3 1449.8 975.9 1450.7 974.5C1451.6 973.1 1452.6 971.8 1453.6 970.4C1454.5 969 1455.5 967.7 1456.5 966.3C1457.4 965 1458.4 963.7 1459.4 962.3C1460.5 961 1461.5 959.7 1462.5 958.4C1463.5 957 1464.6 955.7 1465.6 954.4C1466.7 953.1 1467.7 951.8 1468.8 950.6C1469.9 949.3 1471 948 1472.1 946.8C1473.2 945.5 1474.3 944.2 1475.5 943C1476.6 941.8 1477.7 940.5 1478.9 939.3C1480.1 938.1 1481.2 936.9 1482.4 935.7C1483.6 934.5 1484.8 933.3 1486 932.1C1487.2 930.9 1488.4 929.7 1489.7 928.6C1490.9 927.4 1492.2 926.2 1493.4 925.1C1494.7 924 1496 922.8 1497.3 921.7C1498.6 920.6 1499.9 919.5 1501.2 918.4C1502.5 917.3 1503.8 916.3 1505.2 915.2C1506.5 914.1 1507.8 913.1 1509.2 912.1C1510.6 911 1511.9 910 1513.3 909C1514.7 908 1516.1 907 1517.5 906.1C1518.9 905.1 1520.3 904.1 1521.8 903.2C1523.2 902.3 1524.6 901.4 1526.1 900.5C1527.5 899.6 1529 898.7 1530.4 897.8C1531.9 897 1533.4 896.1 1534.9 895.3C1536.4 894.5 1537.8 893.7 1539.3 892.9C1540.9 892.1 1542.4 891.3 1543.9 890.6C1545.4 889.9 1546.9 889.2 1548.5 888.6C1550 888 1551.6 887.4 1553.1 886.9C1554.7 886.4 1556.3 885.9 1557.9 885.6C1559.5 885.3 1561.1 885 1562.7 884.9C1564.3 884.8 1565.9 884.8 1567.6 884.9C1569.2 885 1570.9 885.3 1572.5 885.7C1574.2 886.1 1575.8 886.6 1577.4 887.2C1578.9 887.8 1580.4 888.6 1581.9 889.5C1583.3 890.3 1584.7 891.3 1586.1 892.3C1587.4 893.4 1588.7 894.5 1590.1 895.6C1591.4 896.6 1592.7 897.8 1594 898.8C1595.4 899.9 1596.7 900.9 1598.1 901.9C1599.5 902.9 1600.9 903.9 1602.3 904.8C1603.7 905.7 1605.1 906.6 1606.6 907.5C1608 908.4 1609.5 909.2 1610.9 910.1C1612.4 910.9 1613.9 911.7 1615.4 912.4C1616.9 913.2 1618.4 913.9 1619.9 914.7C1621.4 915.4 1623 916.1 1624.5 916.7C1626 917.4 1627.6 918 1629.1 918.6C1630.7 919.3 1632.3 919.9 1633.8 920.4C1635.4 921 1637 921.6 1638.6 922.1C1640.2 922.6 1641.7 923.2 1643.3 923.6C1644.9 924.1 1646.5 924.6 1648.1 925.1C1649.7 925.5 1651.4 926 1653 926.4C1654.6 926.8 1656.2 927.2 1657.8 927.6C1659.5 928 1661.1 928.4 1662.7 928.8C1664.3 929.1 1666 929.5 1667.6 929.8C1669.3 930.1 1670.9 930.5 1672.5 930.8C1674.2 931.1 1675.8 931.4 1677.5 931.6C1679.1 931.9 1680.8 932.2 1682.4 932.4C1684.1 932.7 1685.8 932.9 1687.4 933.2C1689.1 933.4 1690.8 933.6 1692.4 933.8C1694.1 934 1695.8 934.2 1697.4 934.4C1699.1 934.6 1700.8 934.8 1702.5 934.9C1704.1 935.1 1705.8 935.2 1707.5 935.4C1709.2 935.5 1710.9 935.7 1712.5 935.8C1714.2 935.9 1715.9 936.1 1717.6 936.2C1719.3 936.3 1721 936.4 1722.7 936.5C1724.4 936.6 1726 936.7 1727.7 936.8C1729.4 936.9 1731.1 937 1732.8 937.1C1734.5 937.2 1736.2 937.2 1737.9 937.3C1739.6 937.4 1741.3 937.5 1743 937.5C1744.7 937.6 1746.4 937.7 1748.1 937.7C1749.7 937.8 1751.4 937.9 1753.1 937.9C1754.8 938 1756.5 938 1758.2 938.1C1759.9 938.1 1761.6 938.2 1763.3 938.2C1765 938.3 1766.7 938.4 1768.4 938.4C1770.1 938.5 1771.7 938.5 1773.4 938.5C1775.1 938.6 1776.8 938.6 1778.5 938.7C1780.2 938.7 1781.9 938.8 1783.6 938.8C1785.3 938.9 1786.9 938.9 1788.6 938.9C1790.3 939 1792 939 1793.7 939C1795.4 939.1 1797.1 939.1 1798.7 939.1C1800.4 939.2 1802.1 939.2 1803.8 939.2C1805.5 939.3 1807.2 939.3 1808.9 939.3C1810.5 939.3 1812.2 939.3 1813.9 939.4C1815.6 939.4 1817.3 939.4 1819 939.4C1820.6 939.4 1822.3 939.4 1824 939.4C1825.7 939.4 1827.4 939.4 1829.1 939.5C1830.7 939.5 1832.4 939.5 1834.1 939.4C1835.8 939.4 1837.5 939.4 1839.1 939.4C1840.8 939.4 1842.5 939.4 1844.2 939.4C1845.9 939.4 1847.5 939.4 1849.2 939.3C1850.9 939.3 1852.6 939.3 1854.3 939.3C1855.9 939.2 1857.6 939.2 1859.3 939.2C1861 939.1 1862.7 939.1 1864.3 939C1866 939 1867.7 939 1869.4 938.9C1871 938.9 1872.7 938.8 1874.4 938.7C1876.1 938.7 1877.8 938.6 1879.4 938.6C1881.1 938.5 1882.8 938.4 1884.5 938.4C1886.1 938.3 1887.8 938.2 1889.5 938.1C1891.2 938.1 1892.8 938 1894.5 937.9C1896.2 937.8 1897.9 937.7 1899.5 937.6C1901.2 937.5 1902.9 937.4 1904.6 937.3C1906.3 937.2 1907.9 937.1 1909.6 937C1911.3 936.8 1913 936.7 1914.6 936.6C1916.3 936.5 1918 936.3 1919.7 936.2C1921.3 936.1 1923 935.9 1924.7 935.8C1926.4 935.6 1928 935.5 1929.7 935.3C1931.4 935.2 1933.1 935 1934.7 934.9C1936.4 934.7 1938.1 934.5 1939.8 934.3C1941.4 934.2 1943.1 934 1944.8 933.8C1946.5 933.6 1948.1 933.4 1949.8 933.2C1951.5 933 1953.2 932.8 1954.8 932.6C1956.5 932.4 1958.2 932.2 1959.9 932C1961.5 931.8 1963.2 931.5 1964.9 931.3C1966.6 931.1 1969.1 930.7 1969.9 930.6"/>
<path class="r" stroke-width="4.2" d="M1343.5 1050.7C1344.2 1050.1 1346.1 1048.3 1347.4 1047.2C1348.7 1046 1350.1 1045 1351.4 1044.1C1352.8 1043.1 1354.2 1042.2 1355.7 1041.4C1357.1 1040.6 1358.6 1039.8 1360.1 1039.1C1361.6 1038.4 1363.1 1037.7 1364.6 1037.1C1366.2 1036.5 1367.7 1036 1369.3 1035.5C1370.9 1035 1372.5 1034.5 1374.1 1034.1C1375.7 1033.6 1377.3 1033.2 1378.9 1032.8C1380.6 1032.5 1382.2 1032.1 1383.9 1031.8C1385.5 1031.4 1387.2 1031.1 1388.8 1030.8C1390.5 1030.5 1392.2 1030.2 1393.8 1029.9C1395.5 1029.6 1397.2 1029.3 1398.8 1029C1400.5 1028.7 1402.2 1028.4 1403.8 1028.1C1405.5 1027.8 1407.1 1027.5 1408.8 1027.1C1410.5 1026.8 1412.1 1026.5 1413.8 1026.1C1415.4 1025.8 1417 1025.5 1418.7 1025.1C1420.3 1024.7 1422 1024.3 1423.6 1024C1425.2 1023.6 1426.8 1023.2 1428.5 1022.7C1430.1 1022.3 1431.7 1021.9 1433.3 1021.4C1434.9 1021 1436.5 1020.5 1438.1 1020C1439.7 1019.5 1441.3 1019 1442.9 1018.4C1444.4 1017.9 1446 1017.3 1447.6 1016.8C1449.1 1016.2 1450.7 1015.6 1452.2 1014.9C1453.8 1014.3 1455.3 1013.6 1456.8 1012.9C1458.4 1012.3 1459.9 1011.5 1461.4 1010.8C1462.9 1010 1464.4 1009.3 1465.8 1008.5C1467.3 1007.7 1468.8 1006.8 1470.3 1005.9C1471.7 1005.1 1473.2 1004.2 1474.6 1003.3C1476.1 1002.4 1477.5 1001.5 1479 1000.6C1480.4 999.6 1481.8 998.7 1483.3 997.8C1484.7 996.9 1486.1 995.9 1487.6 995C1489 994.1 1490.4 993.2 1491.9 992.3C1493.3 991.4 1494.8 990.6 1496.2 989.7C1497.7 988.9 1499.1 988.1 1500.6 987.3C1502.1 986.5 1503.5 985.8 1505 985C1506.5 984.3 1508 983.7 1509.5 983.1C1511.1 982.5 1512.6 981.9 1514.1 981.4C1515.7 980.9 1517.2 980.4 1518.8 980.1C1520.4 979.7 1522 979.4 1523.6 979.1C1525.2 978.9 1526.9 978.8 1528.5 978.6C1530.2 978.5 1531.9 978.5 1533.5 978.4C1535.2 978.3 1536.9 978.3 1538.5 978.1C1540.2 977.9 1541.8 977.7 1543.4 977.3C1545 976.9 1546.5 976.3 1548 975.6C1549.5 974.9 1550.9 974 1552.3 973.1C1553.8 972.2 1555.2 971.1 1556.6 970.2C1558 969.2 1559.4 968.2 1560.9 967.3C1562.3 966.4 1563.8 965.6 1565.3 964.9C1566.8 964.1 1568.3 963.4 1569.8 962.8C1571.4 962.2 1572.9 961.6 1574.5 961.1C1576 960.6 1577.6 960.2 1579.2 959.8C1580.8 959.4 1582.4 959 1584.1 958.7C1585.7 958.4 1587.3 958.2 1589 957.9C1590.6 957.7 1592.3 957.5 1593.9 957.3C1595.6 957.1 1597.3 957 1598.9 956.8C1600.6 956.7 1602.3 956.6 1604 956.5C1605.6 956.4 1607.3 956.3 1609 956.2C1610.7 956.1 1612.4 956 1614.1 955.9C1615.7 955.9 1617.4 955.8 1619.1 955.7C1620.8 955.6 1622.5 955.6 1624.2 955.5C1625.8 955.4 1627.5 955.4 1629.2 955.3C1630.9 955.2 1632.6 955.2 1634.2 955.1C1635.9 955.1 1637.6 955 1639.3 955C1641 954.9 1642.7 954.9 1644.3 954.8C1646 954.8 1647.7 954.7 1649.4 954.7C1651.1 954.7 1652.7 954.6 1654.4 954.6C1656.1 954.6 1657.8 954.5 1659.5 954.5C1661.2 954.5 1662.8 954.4 1664.5 954.4C1666.2 954.4 1667.9 954.4 1669.6 954.4C1671.2 954.3 1672.9 954.3 1674.6 954.3C1676.3 954.3 1678 954.3 1679.6 954.2C1681.3 954.2 1683 954.2 1684.7 954.2C1686.4 954.2 1688 954.2 1689.7 954.2C1691.4 954.2 1693.1 954.2 1694.8 954.2C1696.4 954.2 1698.1 954.2 1699.8 954.2C1701.5 954.1 1703.2 954.1 1704.8 954.1C1706.5 954.1 1708.2 954.1 1709.9 954.1C1711.6 954.1 1713.2 954.1 1714.9 954.2C1716.6 954.2 1718.3 954.2 1720 954.2C1721.6 954.2 1723.3 954.2 1725 954.2C1726.7 954.2 1728.4 954.2 1730 954.2C1731.7 954.2 1733.4 954.2 1735.1 954.2C1736.8 954.2 1738.4 954.2 1740.1 954.2C1741.8 954.2 1743.5 954.2 1745.2 954.2C1746.8 954.3 1748.5 954.3 1750.2 954.3C1751.9 954.3 1753.6 954.3 1755.2 954.3C1756.9 954.3 1758.6 954.3 1760.3 954.3C1762 954.3 1763.6 954.3 1765.3 954.3C1767 954.3 1768.7 954.3 1770.4 954.3C1772 954.3 1773.7 954.3 1775.4 954.3C1777.1 954.3 1778.8 954.3 1780.4 954.3C1782.1 954.3 1783.8 954.3 1785.5 954.3C1787.2 954.3 1788.9 954.3 1790.5 954.3C1792.2 954.3 1793.9 954.3 1795.6 954.3C1797.3 954.3 1798.9 954.2 1800.6 954.2C1802.3 954.2 1804 954.2 1805.7 954.2C1807.4 954.2 1809 954.2 1810.7 954.1C1812.4 954.1 1814.1 954.1 1815.8 954.1C1817.5 954 1819.1 954 1820.8 954C1822.5 954 1824.2 953.9 1825.9 953.9C1827.5 953.9 1829.2 953.8 1830.9 953.8C1832.6 953.7 1834.3 953.7 1836 953.6C1837.6 953.6 1839.3 953.5 1841 953.4C1842.7 953.4 1844.4 953.3 1846 953.2C1847.7 953.1 1849.4 953 1851.1 952.9C1852.8 952.8 1854.4 952.7 1856.1 952.6C1857.8 952.5 1859.5 952.3 1861.1 952.2C1862.8 952.1 1864.5 951.9 1866.2 951.8C1867.8 951.6 1869.5 951.4 1871.2 951.2C1872.8 951 1874.5 950.8 1876.2 950.6C1877.8 950.4 1879.5 950.2 1881.2 950C1882.8 949.7 1884.5 949.5 1886.2 949.2C1887.8 948.9 1889.5 948.6 1891.1 948.3C1892.8 948 1894.4 947.7 1896.1 947.4C1897.7 947 1899.4 946.6 1901 946.2C1902.6 945.8 1904.3 945.4 1905.9 944.9C1907.4 944.4 1909 943.9 1910.6 943.3C1912.1 942.7 1913.7 942.1 1915.2 941.4C1916.7 940.7 1918.1 939.9 1919.6 939C1921 938.2 1922.4 937.2 1923.8 936.2C1925.1 935.2 1926.4 934.2 1927.7 933C1929 931.9 1930.2 930.7 1931.4 929.6C1932.7 928.4 1933.8 927.1 1935 925.9C1936.1 924.6 1937.2 923.3 1938.3 922C1939.3 920.7 1940.4 919.4 1941.4 918C1942.4 916.7 1943.3 915.3 1944.3 913.9C1945.2 912.5 1946.1 911.1 1947 909.7C1947.9 908.3 1948.7 906.8 1949.6 905.4C1950.4 903.9 1951.2 902.4 1952 900.9C1952.8 899.4 1953.5 897.9 1954.3 896.4C1955 894.9 1955.7 893.4 1956.4 891.8C1957.1 890.3 1957.7 888.7 1958.4 887.2C1959 885.6 1959.7 884 1960.3 882.5C1960.9 880.9 1961.5 879.3 1962.1 877.7C1962.7 876.1 1963.2 874.6 1963.8 873C1964.3 871.4 1964.9 869.8 1965.4 868.2C1965.9 866.6 1966.5 865 1967 863.4C1967.5 861.8 1968 860.2 1968.5 858.6C1968.9 857 1969.7 854.6 1969.9 853.8"/>
<path class="r" stroke-width="4.2" d="M1343.5 1049.4C1343.8 1048.5 1344.7 1045.9 1345.3 1044.3C1345.9 1042.6 1346.6 1041 1347.3 1039.4C1348 1037.8 1348.8 1036.3 1349.6 1034.8C1350.4 1033.3 1351.2 1031.8 1352.1 1030.4C1353 1028.9 1353.9 1027.5 1354.8 1026.2C1355.8 1024.8 1356.8 1023.5 1357.8 1022.2C1358.8 1020.9 1359.9 1019.7 1361 1018.4C1362 1017.2 1363.2 1016 1364.3 1014.8C1365.5 1013.7 1366.6 1012.5 1367.9 1011.4C1369.1 1010.3 1370.3 1009.3 1371.6 1008.2C1372.8 1007.2 1374.1 1006.1 1375.4 1005.2C1376.7 1004.2 1378.1 1003.2 1379.4 1002.3C1380.8 1001.3 1382.2 1000.4 1383.6 999.5C1385 998.6 1386.4 997.7 1387.9 996.9C1389.3 996 1390.8 995.2 1392.3 994.4C1393.7 993.6 1395.2 992.8 1396.8 992.1C1398.3 991.3 1399.8 990.6 1401.3 989.8C1402.9 989.1 1404.4 988.4 1406 987.7C1407.6 987 1409.1 986.3 1410.7 985.7C1412.3 985 1413.9 984.4 1415.5 983.7C1417.1 983.1 1418.7 982.5 1420.3 981.9C1421.9 981.3 1423.6 980.7 1425.2 980.1C1426.8 979.5 1428.4 978.9 1430.1 978.4C1431.7 977.8 1433.3 977.3 1435 976.7C1436.6 976.2 1438.2 975.6 1439.8 975.1C1441.5 974.6 1443.1 974.1 1444.7 973.5C1446.4 973 1448 972.5 1449.6 972C1451.2 971.5 1452.8 971 1454.5 970.5C1456.1 970.1 1457.7 969.6 1459.3 969.1C1461 968.6 1462.6 968.2 1464.2 967.7C1465.8 967.3 1467.4 966.8 1469.1 966.4C1470.7 966 1472.3 965.6 1473.9 965.2C1475.6 964.8 1477.2 964.4 1478.8 964C1480.4 963.6 1482.1 963.2 1483.7 962.8C1485.3 962.5 1487 962.1 1488.6 961.8C1490.2 961.4 1491.9 961.1 1493.5 960.8C1495.2 960.4 1496.8 960.1 1498.5 959.8C1500.1 959.5 1501.7 959.2 1503.4 959C1505.1 958.7 1506.7 958.4 1508.4 958.2C1510 957.9 1511.7 957.7 1513.4 957.5C1515 957.3 1516.7 957.1 1518.4 956.8C1520 956.6 1521.7 956.5 1523.4 956.3C1525.1 956.1 1526.8 955.9 1528.4 955.8C1530.1 955.6 1531.8 955.4 1533.5 955.3C1535.2 955.1 1536.9 955 1538.5 954.9C1540.2 954.7 1541.9 954.6 1543.6 954.5C1545.3 954.3 1547 954.2 1548.7 954.1C1550.4 954 1552.1 953.9 1553.8 953.8C1555.5 953.7 1557.1 953.6 1558.8 953.5C1560.5 953.4 1562.2 953.3 1563.9 953.2C1565.6 953.1 1567.3 953 1569 952.9C1570.7 952.8 1572.4 952.7 1574.1 952.6C1575.8 952.5 1577.4 952.4 1579.1 952.3C1580.8 952.2 1582.5 952.2 1584.2 952.1C1585.9 952 1587.6 951.9 1589.3 951.8C1591 951.8 1592.6 951.7 1594.3 951.6C1596 951.5 1597.7 951.5 1599.4 951.4C1601.1 951.3 1602.8 951.2 1604.5 951.2C1606.1 951.1 1607.8 951 1609.5 951C1611.2 950.9 1612.9 950.9 1614.6 950.8C1616.3 950.7 1618 950.7 1619.6 950.6C1621.3 950.6 1623 950.5 1624.7 950.4C1626.4 950.4 1628.1 950.3 1629.8 950.3C1631.5 950.2 1633.1 950.2 1634.8 950.1C1636.5 950.1 1638.2 950 1639.9 950C1641.6 949.9 1643.3 949.9 1644.9 949.9C1646.6 949.8 1648.3 949.8 1650 949.7C1651.7 949.7 1653.4 949.7 1655.1 949.6C1656.7 949.6 1658.4 949.5 1660.1 949.5C1661.8 949.5 1663.5 949.4 1665.2 949.4C1666.9 949.4 1668.5 949.4 1670.2 949.3C1671.9 949.3 1673.6 949.3 1675.3 949.2C1677 949.2 1678.7 949.2 1680.3 949.2C1682 949.1 1683.7 949.1 1685.4 949.1C1687.1 949.1 1688.8 949.1 1690.5 949C1692.2 949 1693.8 949 1695.5 949C1697.2 949 1698.9 949 1700.6 949C1702.3 948.9 1704 948.9 1705.7 948.9C1707.3 948.9 1709 948.9 1710.7 948.9C1712.4 948.9 1714.1 948.9 1715.8 948.9C1717.5 948.9 1719.2 948.9 1720.9 948.9C1722.6 948.8 1724.2 948.8 1725.9 948.8C1727.6 948.8 1729.3 948.8 1731 948.8C1732.7 948.8 1734.4 948.8 1736.1 948.8C1737.8 948.8 1739.5 948.8 1741.1 948.8C1742.8 948.8 1744.5 948.8 1746.2 948.8C1747.9 948.8 1749.6 948.8 1751.3 948.8C1753 948.8 1754.7 948.8 1756.4 948.7C1758.1 948.7 1759.8 948.7 1761.4 948.7C1763.1 948.7 1764.8 948.7 1766.5 948.6C1768.2 948.6 1769.9 948.6 1771.6 948.6C1773.3 948.5 1775 948.5 1776.7 948.5C1778.4 948.4 1780.1 948.4 1781.7 948.4C1783.4 948.3 1785.1 948.3 1786.8 948.2C1788.5 948.2 1790.2 948.1 1791.9 948.1C1793.6 948 1795.3 948 1797 947.9C1798.7 947.8 1800.4 947.7 1802 947.7C1803.7 947.6 1805.4 947.5 1807.1 947.4C1808.8 947.3 1810.5 947.2 1812.2 947.1C1813.9 947 1815.6 946.9 1817.3 946.8C1818.9 946.7 1820.6 946.6 1822.3 946.4C1824 946.3 1825.7 946.2 1827.4 946C1829.1 945.9 1830.8 945.7 1832.4 945.6C1834.1 945.4 1835.8 945.3 1837.5 945.1C1839.2 944.9 1840.9 944.7 1842.6 944.5C1844.3 944.4 1845.9 944.2 1847.6 943.9C1849.3 943.7 1851 943.5 1852.7 943.3C1854.4 943.1 1856.1 942.8 1857.7 942.6C1859.4 942.3 1861.1 942.1 1862.8 941.8C1864.5 941.6 1866.2 941.3 1867.8 941C1869.5 940.7 1871.2 940.4 1872.9 940.1C1874.5 939.8 1876.2 939.4 1877.9 939.1C1879.5 938.7 1881.2 938.4 1882.8 938C1884.5 937.6 1886.1 937.1 1887.7 936.7C1889.3 936.3 1890.9 935.8 1892.5 935.3C1894.1 934.8 1895.7 934.3 1897.3 933.7C1898.9 933.1 1900.4 932.6 1901.9 931.9C1903.5 931.3 1905 930.6 1906.5 930C1908 929.3 1909.4 928.5 1910.9 927.7C1912.3 927 1913.7 926.1 1915.1 925.3C1916.5 924.4 1917.9 923.5 1919.3 922.6C1920.6 921.6 1921.9 920.7 1923.2 919.6C1924.5 918.6 1925.8 917.6 1927.1 916.5C1928.3 915.4 1929.6 914.3 1930.8 913.1C1932 912 1933.1 910.8 1934.3 909.5C1935.4 908.3 1936.6 907 1937.7 905.8C1938.8 904.5 1939.8 903.1 1940.9 901.8C1941.9 900.4 1943 899.1 1944 897.7C1945 896.3 1946 894.9 1946.9 893.4C1947.9 892 1948.8 890.6 1949.8 889.1C1950.7 887.6 1951.6 886.1 1952.5 884.7C1953.4 883.2 1954.3 881.7 1955.1 880.2C1956 878.7 1956.8 877.1 1957.7 875.6C1958.5 874.1 1959.3 872.6 1960.1 871.1C1960.9 869.6 1961.7 868.1 1962.5 866.6C1963.3 865 1964.1 863.5 1964.8 862.1C1965.6 860.6 1966.4 859.1 1967.1 857.6C1967.8 856.1 1969 854 1969.3 853.3"/>
</g>
<text class="s" font-size="32.9" text-anchor="end" x="1245.5" y="868.4">2.0x10<tspan font-size="19.6" dy="-16.8">-3</tspan></text>
<text class="s" font-size="32.9" text-anchor="end" x="1245.5" y="959.7">0.0</text>
<text class="s" font-size="32.9" text-anchor="end" x="1245.5" y="1061.8">-2.0x10<tspan font-size="19.6" dy="-16.8">-3</tspan></text>
<text class="s" font-size="32.9" text-anchor="end" x="1245.5" y="1158.5">-4.0x10<tspan font-size="19.6" dy="-16.8">-3</tspan></text>
<text class="s" font-size="32.9" text-anchor="end" x="1245.5" y="1255.2">-6.0x10<tspan font-size="19.6" dy="-16.8">-3</tspan></text>
<text class="s" font-size="32.9" text-anchor="end" x="1245.5" y="1351.9">-8.0x10<tspan font-size="19.6" dy="-16.8">-3</tspan></text>
<text class="s" font-size="32.9" text-anchor="middle" x="1263.8" y="1432.7">-1.5</text>
<text class="s" font-size="32.9" text-anchor="middle" x="1394.5" y="1432.7">-1.0</text>
<text class="s" font-size="32.9" text-anchor="middle" x="1525.3" y="1432.7">-0.5</text>
<text class="s" font-size="32.9" text-anchor="middle" x="1656" y="1432.7">0.0</text>
<text class="s" font-size="32.9" text-anchor="middle" x="1786.8" y="1432.7">0.5</text>
<text class="s" font-size="32.9" text-anchor="middle" x="1917.5" y="1432.7">1.0</text>
<text class="s" font-size="32.9" text-anchor="middle" x="2048.3" y="1432.7">1.5</text>
<text class="t" font-size="33.2" text-anchor="middle" x="1656.7" y="1488.5">Potential (V)</text>
<text class="t" font-size="33.1" text-anchor="middle" transform="translate(1102.5 1119.8) rotate(-90)">Current (A)</text>
<text class="s" font-size="50" transform="translate(1272 855.4) scale(0.92 1)"><tspan dy="-1.9">(</tspan><tspan dy="1.9">c</tspan><tspan dy="-1.9">)</tspan></text>
<path class="k" stroke-width="4.3" d="M1618.9 1306H1684.9"/>
<text class="s" font-size="30" x="1694" y="1316.2">2-WO<tspan font-size="17.8" dy="10.6">3</tspan><tspan dy="-10.6">-g-C</tspan><tspan font-size="17.8" dy="10.6">3</tspan><tspan dy="-10.6">N</tspan><tspan font-size="17.8" dy="10.6">4</tspan><tspan dy="-10.6">/CC</tspan></text>
<path class="r" stroke-width="4.3" d="M1618.9 1352.2H1684.9"/>
<text class="s" font-size="30" x="1694" y="1362.2">2-WO<tspan font-size="17.8" dy="10.6">3</tspan><tspan dy="-10.6">-g-C</tspan><tspan font-size="17.8" dy="10.6">3</tspan><tspan dy="-10.6">N</tspan><tspan font-size="17.8" dy="10.6">4</tspan><tspan dy="-10.6">/CC</tspan><tspan dy="3.5" stroke="#000" stroke-width="1.8">_</tspan><tspan dy="-3.5">H</tspan><tspan font-size="17.8" dy="10.6">2</tspan><tspan dy="-10.6">O</tspan><tspan font-size="17.8" dy="10.6">2</tspan><tspan dy="-10.6">-1</tspan></text>
</g>
</svg></body></html>
